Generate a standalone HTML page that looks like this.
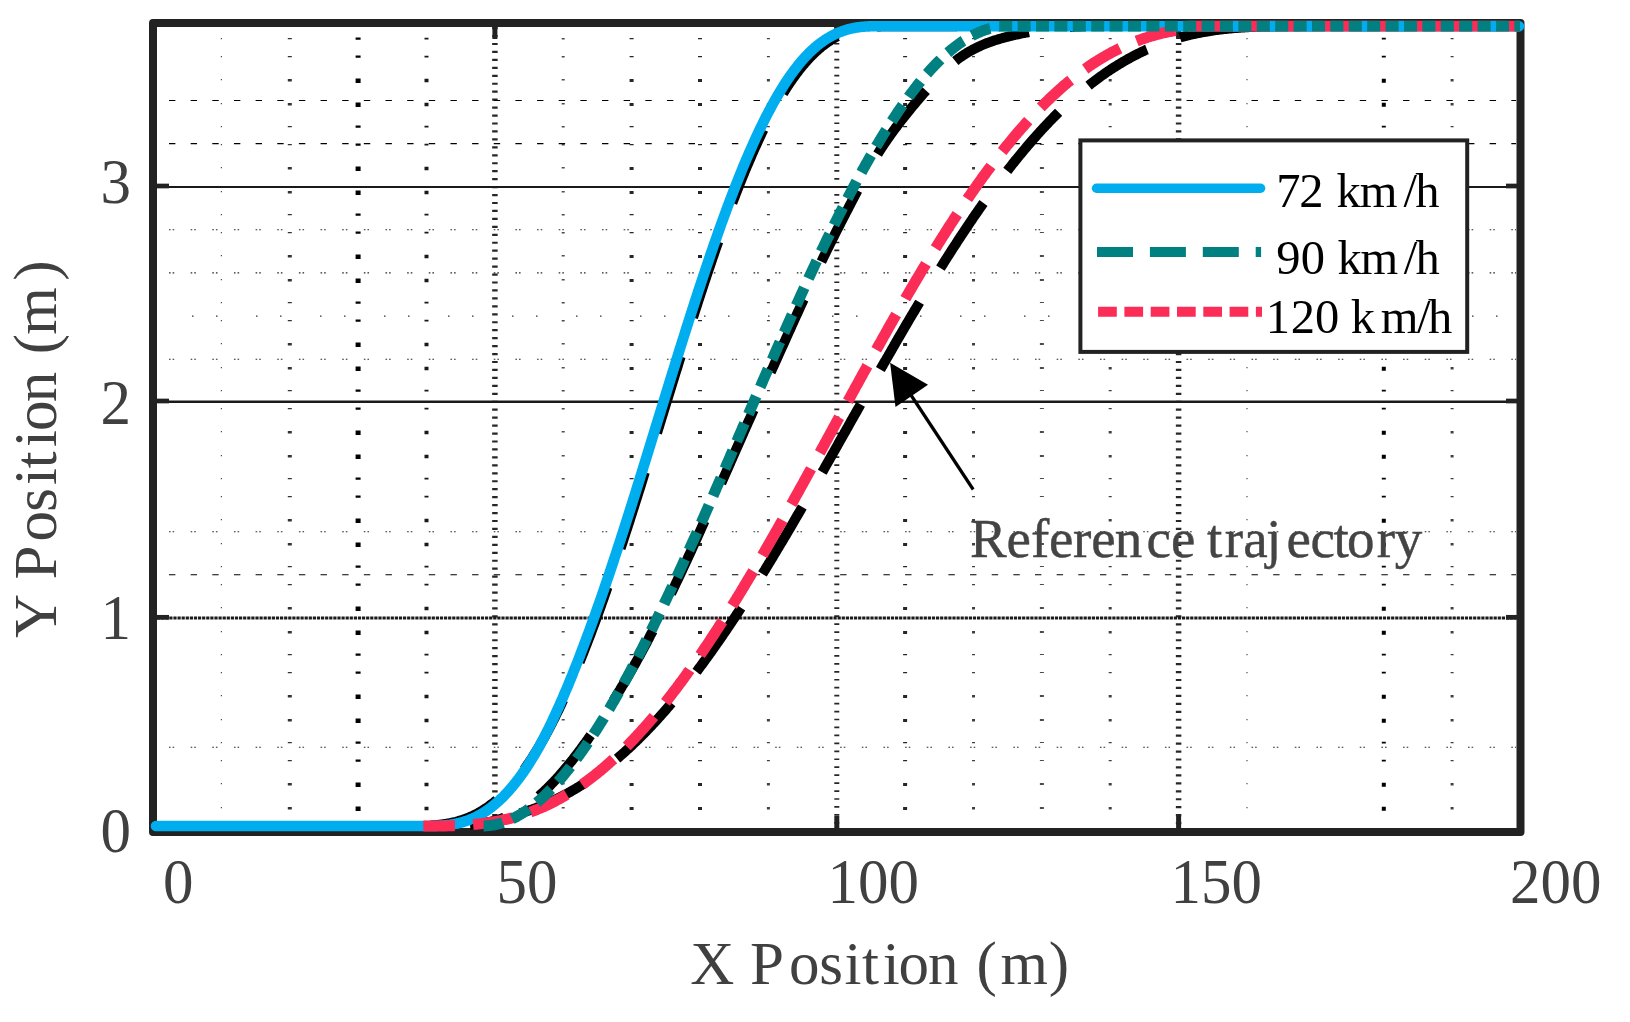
<!DOCTYPE html>
<html><head><meta charset="utf-8"><title>Trajectory plot</title>
<style>html,body{margin:0;padding:0;background:#fff}svg{display:block}</style>
</head><body>
<svg width="1630" height="1022" viewBox="0 0 1630 1022">
<rect width="1630" height="1022" fill="#fff"/>
<g id="grid" fill="none" stroke="#000">
<line x1="221.4" y1="38.0" x2="221.4" y2="828" stroke-width="1.2" stroke-dasharray="1.2 16.8 1.2 21.8 1.2 22.8 1.2 21.8" stroke-opacity="0.7"/>
<line x1="289.8" y1="38.0" x2="289.8" y2="828" stroke-width="4" stroke-dasharray="1.125 16.875 1.125 21.875 2.5 21.5 2.5 20.5" stroke-opacity="0.8"/>
<line x1="358.1" y1="37.6" x2="358.1" y2="828" stroke-width="5" stroke-dasharray="2.025 15.975 2.025 20.975 4.5 19.5 4.5 18.5" stroke-opacity="1"/>
<line x1="426.5" y1="37.8" x2="426.5" y2="828" stroke-width="4" stroke-dasharray="1.575 16.425 1.575 21.425 3.5 20.5 3.5 19.5" stroke-opacity="0.9"/>
<line x1="494.9" y1="27" x2="494.9" y2="828" stroke-width="5.5" stroke-dasharray="2.2 5.75" stroke-opacity="0.85"/>
<line x1="563.2" y1="37.9" x2="563.2" y2="828" stroke-width="3" stroke-dasharray="1.5 16.5 1.5 21.5 1.5 22.5 1.5 21.5" stroke-opacity="0.7"/>
<line x1="631.6" y1="37.9" x2="631.6" y2="828" stroke-width="4" stroke-dasharray="1.35 16.65 1.35 21.65 3 21 3 20" stroke-opacity="0.85"/>
<line x1="700.0" y1="37.9" x2="700.0" y2="828" stroke-width="4" stroke-dasharray="1.35 16.65 1.35 21.65 3 21 3 20" stroke-opacity="0.85"/>
<line x1="768.4" y1="38.0" x2="768.4" y2="828" stroke-width="3" stroke-dasharray="1.125 16.875 1.125 21.875 2.5 21.5 2.5 20.5" stroke-opacity="0.75"/>
<line x1="836.8" y1="27" x2="836.8" y2="828" stroke-width="5" stroke-dasharray="1.7 6.25" stroke-opacity="0.85"/>
<line x1="905.1" y1="37.9" x2="905.1" y2="828" stroke-width="4" stroke-dasharray="1.35 16.65 1.35 21.65 3 21 3 20" stroke-opacity="0.85"/>
<line x1="973.5" y1="38.0" x2="973.5" y2="828" stroke-width="3" stroke-dasharray="1.125 16.875 1.125 21.875 2.5 21.5 2.5 20.5" stroke-opacity="0.75"/>
<line x1="1041.9" y1="38.1" x2="1041.9" y2="828" stroke-width="4" stroke-dasharray="1 17 1 22 2 22 2 21" stroke-opacity="0.7"/>
<line x1="1110.2" y1="38.0" x2="1110.2" y2="828" stroke-width="3" stroke-dasharray="1.125 16.875 1.125 21.875 2.5 21.5 2.5 20.5" stroke-opacity="0.75"/>
<line x1="1178.6" y1="27" x2="1178.6" y2="828" stroke-width="5.5" stroke-dasharray="2.2 5.75" stroke-opacity="0.85"/>
<line x1="1247.0" y1="38.0" x2="1247.0" y2="828" stroke-width="1.2" stroke-dasharray="1.2 16.8 1.2 21.8 1.2 22.8 1.2 21.8" stroke-opacity="0.7"/>
<line x1="1383.8" y1="37.7" x2="1383.8" y2="828" stroke-width="4" stroke-dasharray="1.8 16.2 1.8 21.2 4 20 4 19" stroke-opacity="1"/>
<line x1="1452.1" y1="38.0" x2="1452.1" y2="828" stroke-width="3" stroke-dasharray="1.125 16.875 1.125 21.875 2.5 21.5 2.5 20.5" stroke-opacity="0.75"/>
<line x1="169" y1="574.8" x2="1516" y2="574.8" stroke-width="1.1" stroke-dasharray="6.4 15.25"/>
<line x1="169" y1="143.6" x2="1516" y2="143.6" stroke-width="1.1" stroke-dasharray="6.4 15.25"/>
<line x1="169" y1="100.5" x2="1516" y2="100.5" stroke-width="1.1" stroke-dasharray="6.4 15.25"/>
<line x1="169" y1="747.3" x2="1516" y2="747.3" stroke-width="1.1" stroke-dasharray="1.6 2 1.6 16.45" stroke-opacity=".85"/>
<line x1="169" y1="531.7" x2="1516" y2="531.7" stroke-width="1.1" stroke-dasharray="1.6 2 1.6 16.45" stroke-opacity=".85"/>
<line x1="169" y1="359.2" x2="1516" y2="359.2" stroke-width="1.1" stroke-dasharray="1.6 2 1.6 16.45" stroke-opacity=".85"/>
<line x1="169" y1="272.9" x2="1516" y2="272.9" stroke-width="1.1" stroke-dasharray="1.6 2 1.6 16.45" stroke-opacity=".85"/>
<line x1="169" y1="229.8" x2="1516" y2="229.8" stroke-width="1.1" stroke-dasharray="1.6 2 1.6 16.45" stroke-opacity=".85"/>
<line x1="192" y1="316.1" x2="1516" y2="316.1" stroke-width="1.3" stroke-dasharray="1.5 22.5 1.5 38.5" stroke-opacity=".8"/>
<line x1="157" y1="187" x2="1516" y2="187" stroke="#1a1a1a" stroke-width="2"/>
<line x1="157" y1="401.7" x2="1516" y2="401.7" stroke="#1a1a1a" stroke-width="2.6"/>
<line x1="157" y1="618" x2="1516" y2="618" stroke="#1a1a1a" stroke-width="2.8" stroke-dasharray="3.2 0.9"/>
</g>
<g id="frame" stroke="#222" fill="none">
<rect x="153.0" y="23.0" width="1367.5" height="809.0" stroke-width="8" stroke-linejoin="round"/>
<line x1="156" y1="186" x2="169" y2="186" stroke-width="4.7"/>
<line x1="1506" y1="186" x2="1517" y2="186" stroke-width="4.7"/>
<line x1="156" y1="401" x2="169" y2="401" stroke-width="4.7"/>
<line x1="1506" y1="401" x2="1517" y2="401" stroke-width="4.7"/>
<line x1="156" y1="617.3" x2="169" y2="617.3" stroke-width="4.7"/>
<line x1="1506" y1="617.3" x2="1517" y2="617.3" stroke-width="4.7"/>
<line x1="494.9" y1="816" x2="494.9" y2="829" stroke-width="5"/>
<line x1="494.9" y1="26" x2="494.9" y2="39" stroke-width="5"/>
<line x1="836.8" y1="816" x2="836.8" y2="829" stroke-width="5"/>
<line x1="836.8" y1="26" x2="836.8" y2="39" stroke-width="5"/>
<line x1="1178.6" y1="816" x2="1178.6" y2="829" stroke-width="5"/>
<line x1="1178.6" y1="26" x2="1178.6" y2="39" stroke-width="5"/>
</g>
<g id="curves">
<path id="ref72" d="M430.0,825.5 L431.0,825.5 L432.0,825.4 L433.0,825.3 L434.0,825.3 L435.0,825.2 L436.0,825.1 L437.0,825.0 L438.0,824.9 L439.0,824.8 L440.0,824.7 L441.0,824.6 L442.0,824.4 L443.0,824.3 L444.0,824.2 L445.0,824.0 L446.0,823.9 L447.0,823.7 L448.0,823.5 L449.0,823.3 L450.0,823.1 L451.0,822.9 L452.0,822.7 L453.0,822.5 L454.0,822.3 L455.0,822.0 L456.0,821.8 L457.0,821.5 L458.0,821.2 L459.0,820.9 L460.0,820.6 L461.0,820.3 L462.0,820.0 L463.0,819.7 L464.0,819.3 L465.0,819.0 L466.0,818.6 L467.0,818.2 L468.0,817.8 L469.0,817.4 L470.0,817.0 L471.0,816.5 L472.0,816.1 L473.0,815.6 L474.0,815.1 L475.0,814.7 L476.0,814.1 L477.0,813.6 L478.0,813.1 L479.0,812.5 L480.0,812.0 L481.0,811.4 L482.0,810.8 L483.0,810.2 L484.0,809.5 L485.0,808.9 L486.0,808.2 L487.0,807.5 L488.0,806.8 L489.0,806.1 L490.0,805.4 L491.0,804.6 L492.0,803.9 L493.0,803.1 L494.0,802.3 L495.0,801.5 L496.0,800.7 L497.0,799.8 L498.0,798.9 L499.0,798.0 L500.0,797.1 L501.0,796.2 L502.0,795.3 L503.0,794.3 L504.0,793.3 L505.0,792.3 L506.0,791.3 L507.0,790.3 L508.0,789.2 L509.0,788.1 L510.0,787.0 L511.0,785.9 L512.0,784.8 L513.0,783.6 L514.0,782.5 L515.0,781.3 L516.0,780.1 L517.0,778.8 L518.0,777.6 L519.0,776.3 L520.0,775.0 L521.0,773.7 L522.0,772.4 L523.0,771.0 L524.0,769.7 L525.0,768.3 L526.0,766.9 L527.0,765.4 L528.0,764.0 L529.0,762.5 L530.0,761.0 L531.0,759.5 L532.0,758.0 L533.0,756.4 L534.0,754.8 L535.0,753.3 L536.0,751.6 L537.0,750.0 L538.0,748.4 L539.0,746.7 L540.0,745.0 L541.0,743.3 L542.0,741.5 L543.0,739.8 L544.0,738.0 L545.0,736.2 L546.0,734.4 L547.0,732.6 L548.0,730.7 L549.0,728.8 L550.0,726.9 L551.0,725.0 L552.0,723.1 L553.0,721.1 L554.0,719.2 L555.0,717.2 L556.0,715.1 L557.0,713.1 L558.0,711.1 L559.0,709.0 L560.0,706.9 L561.0,704.8 L562.0,702.7 L563.0,700.5 L564.0,698.3 L565.0,696.1 L566.0,693.9 L567.0,691.7 L568.0,689.5 L569.0,687.2 L570.0,684.9 L571.0,682.6 L572.0,680.3 L573.0,678.0 L574.0,675.6 L575.0,673.2 L576.0,670.8 L577.0,668.4 L578.0,666.0 L579.0,663.6 L580.0,661.1 L581.0,658.6 L582.0,656.1 L583.0,653.6 L584.0,651.1 L585.0,648.5 L586.0,646.0 L587.0,643.4 L588.0,640.8 L589.0,638.2 L590.0,635.6 L591.0,632.9 L592.0,630.3 L593.0,627.6 L594.0,624.9 L595.0,622.2 L596.0,619.5 L597.0,616.7 L598.0,614.0 L599.0,611.2 L600.0,608.5 L601.0,605.7 L602.0,602.9 L603.0,600.0 L604.0,597.2 L605.0,594.4 L606.0,591.5 L607.0,588.6 L608.0,585.7 L609.0,582.8 L610.0,579.9 L611.0,577.0 L612.0,574.1 L613.0,571.1 L614.0,568.2 L615.0,565.2 L616.0,562.2 L617.0,559.2 L618.0,556.2 L619.0,553.2 L620.0,550.2 L621.0,547.2 L622.0,544.1 L623.0,541.1 L624.0,538.0 L625.0,534.9 L626.0,531.8 L627.0,528.8 L628.0,525.7 L629.0,522.6 L630.0,519.4 L631.0,516.3 L632.0,513.2 L633.0,510.0 L634.0,506.9 L635.0,503.8 L636.0,500.6 L637.0,497.4 L638.0,494.3 L639.0,491.1 L640.0,487.9 L641.0,484.7 L642.0,481.5 L643.0,478.3 L644.0,475.1 L645.0,471.9 L646.0,468.7 L647.0,465.5 L648.0,462.3 L649.0,459.0 L650.0,455.8 L651.0,452.6 L652.0,449.3 L653.0,446.1 L654.0,442.9 L655.0,439.6 L656.0,436.4 L657.0,433.2 L658.0,429.9 L659.0,426.7 L660.0,423.4 L661.0,420.2 L662.0,416.9 L663.0,413.7 L664.0,410.4 L665.0,407.2 L666.0,403.9 L667.0,400.7 L668.0,397.5 L669.0,394.2 L670.0,391.0 L671.0,387.7 L672.0,384.5 L673.0,381.3 L674.0,378.0 L675.0,374.8 L676.0,371.6 L677.0,368.4 L678.0,365.2 L679.0,361.9 L680.0,358.7 L681.0,355.5 L682.0,352.3 L683.0,349.1 L684.0,346.0 L685.0,342.8 L686.0,339.6 L687.0,336.4 L688.0,333.3 L689.0,330.1 L690.0,327.0 L691.0,323.8 L692.0,320.7 L693.0,317.5 L694.0,314.4 L695.0,311.3 L696.0,308.2 L697.0,305.1 L698.0,302.0 L699.0,299.0 L700.0,295.9 L701.0,292.8 L702.0,289.8 L703.0,286.7 L704.0,283.7 L705.0,280.7 L706.0,277.7 L707.0,274.7 L708.0,271.7 L709.0,268.7 L710.0,265.8 L711.0,262.8 L712.0,259.9 L713.0,256.9 L714.0,254.0 L715.0,251.1 L716.0,248.2 L717.0,245.4 L718.0,242.5 L719.0,239.7 L720.0,236.8 L721.0,234.0 L722.0,231.2 L723.0,228.4 L724.0,225.6 L725.0,222.9 L726.0,220.1 L727.0,217.4 L728.0,214.7 L729.0,212.0 L730.0,209.3 L731.0,206.6 L732.0,204.0 L733.0,201.3 L734.0,198.7 L735.0,196.1 L736.0,193.5 L737.0,190.9 L738.0,188.4 L739.0,185.9 L740.0,183.3 L741.0,180.8 L742.0,178.4 L743.0,175.9 L744.0,173.5 L745.0,171.0 L746.0,168.6 L747.0,166.2 L748.0,163.9 L749.0,161.5 L750.0,159.2 L751.0,156.9 L752.0,154.6 L753.0,152.3 L754.0,150.0 L755.0,147.8 L756.0,145.6 L757.0,143.4 L758.0,141.2 L759.0,139.1 L760.0,136.9 L761.0,134.8 L762.0,132.7 L763.0,130.6 L764.0,128.6 L765.0,126.6 L766.0,124.5 L767.0,122.6 L768.0,120.6 L769.0,118.6 L770.0,116.7 L771.0,114.8 L772.0,112.9 L773.0,111.1 L774.0,109.2 L775.0,107.4 L776.0,105.6 L777.0,103.8 L778.0,102.1 L779.0,100.3 L780.0,98.6 L781.0,96.9 L782.0,95.3 L783.0,93.6 L784.0,92.0 L785.0,90.4 L786.0,88.8 L787.0,87.3 L788.0,85.7 L789.0,84.2 L790.0,82.7 L791.0,81.3 L792.0,79.8 L793.0,78.4 L794.0,77.0 L795.0,75.6 L796.0,74.3 L797.0,72.9 L798.0,71.6 L799.0,70.3 L800.0,69.0 L801.0,67.8 L802.0,66.6 L803.0,65.4 L804.0,64.2 L805.0,63.0 L806.0,61.9 L807.0,60.7 L808.0,59.6 L809.0,58.6 L810.0,57.5 L811.0,56.5 L812.0,55.5 L813.0,54.5 L814.0,53.5 L815.0,52.5 L816.0,51.6 L817.0,50.7 L818.0,49.8 L819.0,48.9 L820.0,48.1 L821.0,47.2 L822.0,46.4 L823.0,45.6 L824.0,44.9 L825.0,44.1 L826.0,43.4 L827.0,42.7 L828.0,42.0 L829.0,41.3 L830.0,40.6 L831.0,40.0 L832.0,39.4 L833.0,38.8 L834.0,38.2 L835.0,37.6 L836.0,37.1 L837.0,36.5 L838.0,36.0 L839.0,35.5 L840.0,35.0 L841.0,34.6 L842.0,34.1 L843.0,33.7 L844.0,33.3 L845.0,32.9 L846.0,32.5 L847.0,32.1 L848.0,31.7 L849.0,31.4 L850.0,31.1 L851.0,30.7 L852.0,30.4 L853.0,30.2 L854.0,29.9 L855.0,29.6 L856.0,29.4 L857.0,29.1 L858.0,28.9 L859.0,28.7 L860.0,28.5 L861.0,28.3 L862.0,28.1 L863.0,28.0 L864.0,27.8 L865.0,27.6 L866.0,27.5 L867.0,27.4 L868.0,27.3 L869.0,27.1 L870.0,27.0 L871.0,26.9 L872.0,26.8 L873.0,26.8 L874.0,26.7 L875.0,26.6 L876.0,26.6 L877.0,26.5 L878.0,26.5 L879.0,26.4 L880.0,26.4 L881.0,26.3 L882.0,26.3 L883.0,26.3 L884.0,26.3 L885.0,26.3 L886.0,26.2 L887.0,26.2 L888.0,26.2 L889.0,26.2 L890.0,26.2 L891.0,26.2 L892.0,26.2 L893.0,26.2 L894.0,26.2 L895.0,26.2 L896.0,26.2 L897.0,26.2 L898.0,26.2 L899.0,26.2 L900.0,26.2 L901.0,26.2 L902.0,26.2 L903.0,26.2 L904.0,26.2 L905.0,26.2 L906.0,26.2 L907.0,26.2 L908.0,26.2 L909.0,26.2 L910.0,26.2 L911.0,26.2 L912.0,26.2 L913.0,26.2 L914.0,26.2 L915.0,26.2 L916.0,26.2 L917.0,26.2 L918.0,26.2 L919.0,26.2 L920.0,26.2 L921.0,26.2 L922.0,26.2 L923.0,26.2 L924.0,26.2 L925.0,26.2 L926.0,26.2 L927.0,26.2 L928.0,26.2 L929.0,26.2 L930.0,26.2 L931.0,26.2 L932.0,26.2 L933.0,26.2 L934.0,26.2 L935.0,26.2 L936.0,26.2 L937.0,26.2 L938.0,26.2 L939.0,26.2 L940.0,26.2 L941.0,26.2 L942.0,26.2 L943.0,26.2 L944.0,26.2 L945.0,26.2 L946.0,26.2 L947.0,26.2 L948.0,26.2 L949.0,26.2 L950.0,26.2 L951.0,26.2 L952.0,26.2 L953.0,26.2 L954.0,26.2 L955.0,26.2 L956.0,26.2 L957.0,26.2 L958.0,26.2 L959.0,26.2 L960.0,26.2 L961.0,26.2 L962.0,26.2 L963.0,26.2 L964.0,26.2 L965.0,26.2 L966.0,26.2 L967.0,26.2 L968.0,26.2 L969.0,26.2 L970.0,26.2 L971.0,26.2 L972.0,26.2 L973.0,26.2 L974.0,26.2 L975.0,26.2 L976.0,26.2 L977.0,26.2 L978.0,26.2 L979.0,26.2 L980.0,26.2 L981.0,26.2 L982.0,26.2 L983.0,26.2 L984.0,26.2 L985.0,26.2 L986.0,26.2 L987.0,26.2 L988.0,26.2 L989.0,26.2 L990.0,26.2 L991.0,26.2 L992.0,26.2 L993.0,26.2 L994.0,26.2 L995.0,26.2 L996.0,26.2 L997.0,26.2 L998.0,26.2 L999.0,26.2 L1000.0,26.2" fill="none" stroke="#000" stroke-width="10" stroke-dasharray="80 41" stroke-dashoffset="6.9" />
<path id="ref90" d="M470.0,824.5 L471.0,824.4 L472.0,824.3 L473.0,824.2 L474.0,824.1 L475.0,824.0 L476.0,823.9 L477.0,823.8 L478.0,823.7 L479.0,823.5 L480.0,823.4 L481.0,823.3 L482.0,823.1 L483.0,823.0 L484.0,822.8 L485.0,822.7 L486.0,822.5 L487.0,822.3 L488.0,822.2 L489.0,822.0 L490.0,821.8 L491.0,821.6 L492.0,821.3 L493.0,821.1 L494.0,820.9 L495.0,820.6 L496.0,820.4 L497.0,820.1 L498.0,819.8 L499.0,819.5 L500.0,819.2 L501.0,818.8 L502.0,818.5 L503.0,818.1 L504.0,817.8 L505.0,817.4 L506.0,817.0 L507.0,816.6 L508.0,816.2 L509.0,815.7 L510.0,815.3 L511.0,814.8 L512.0,814.4 L513.0,813.9 L514.0,813.4 L515.0,812.9 L516.0,812.3 L517.0,811.8 L518.0,811.2 L519.0,810.7 L520.0,810.1 L521.0,809.5 L522.0,808.8 L523.0,808.2 L524.0,807.6 L525.0,806.9 L526.0,806.2 L527.0,805.5 L528.0,804.8 L529.0,804.0 L530.0,803.3 L531.0,802.5 L532.0,801.7 L533.0,800.9 L534.0,800.1 L535.0,799.3 L536.0,798.5 L537.0,797.6 L538.0,796.8 L539.0,795.9 L540.0,795.0 L541.0,794.2 L542.0,793.3 L543.0,792.3 L544.0,791.4 L545.0,790.5 L546.0,789.5 L547.0,788.6 L548.0,787.6 L549.0,786.6 L550.0,785.6 L551.0,784.6 L552.0,783.5 L553.0,782.5 L554.0,781.4 L555.0,780.4 L556.0,779.3 L557.0,778.2 L558.0,777.1 L559.0,776.0 L560.0,774.8 L561.0,773.7 L562.0,772.5 L563.0,771.4 L564.0,770.2 L565.0,769.0 L566.0,767.8 L567.0,766.6 L568.0,765.4 L569.0,764.2 L570.0,762.9 L571.0,761.7 L572.0,760.5 L573.0,759.2 L574.0,757.9 L575.0,756.6 L576.0,755.3 L577.0,754.0 L578.0,752.7 L579.0,751.4 L580.0,750.1 L581.0,748.7 L582.0,747.4 L583.0,746.0 L584.0,744.6 L585.0,743.3 L586.0,741.9 L587.0,740.5 L588.0,739.1 L589.0,737.6 L590.0,736.2 L591.0,734.8 L592.0,733.3 L593.0,731.9 L594.0,730.4 L595.0,728.9 L596.0,727.5 L597.0,726.0 L598.0,724.5 L599.0,723.0 L600.0,721.5 L601.0,720.0 L602.0,718.4 L603.0,716.9 L604.0,715.4 L605.0,713.8 L606.0,712.3 L607.0,710.7 L608.0,709.1 L609.0,707.6 L610.0,706.0 L611.0,704.4 L612.0,702.8 L613.0,701.2 L614.0,699.6 L615.0,698.0 L616.0,696.3 L617.0,694.7 L618.0,693.1 L619.0,691.4 L620.0,689.8 L621.0,688.1 L622.0,686.4 L623.0,684.8 L624.0,683.1 L625.0,681.4 L626.0,679.7 L627.0,678.0 L628.0,676.3 L629.0,674.5 L630.0,672.8 L631.0,671.1 L632.0,669.3 L633.0,667.5 L634.0,665.8 L635.0,664.0 L636.0,662.2 L637.0,660.4 L638.0,658.6 L639.0,656.8 L640.0,655.0 L641.0,653.1 L642.0,651.3 L643.0,649.4 L644.0,647.6 L645.0,645.7 L646.0,643.8 L647.0,641.9 L648.0,640.0 L649.0,638.1 L650.0,636.1 L651.0,634.2 L652.0,632.3 L653.0,630.3 L654.0,628.3 L655.0,626.4 L656.0,624.4 L657.0,622.4 L658.0,620.4 L659.0,618.4 L660.0,616.4 L661.0,614.3 L662.0,612.3 L663.0,610.3 L664.0,608.2 L665.0,606.2 L666.0,604.1 L667.0,602.0 L668.0,600.0 L669.0,597.9 L670.0,595.8 L671.0,593.7 L672.0,591.6 L673.0,589.5 L674.0,587.4 L675.0,585.3 L676.0,583.2 L677.0,581.1 L678.0,579.0 L679.0,576.9 L680.0,574.8 L681.0,572.6 L682.0,570.5 L683.0,568.4 L684.0,566.2 L685.0,564.1 L686.0,561.9 L687.0,559.8 L688.0,557.6 L689.0,555.4 L690.0,553.3 L691.0,551.1 L692.0,548.9 L693.0,546.7 L694.0,544.5 L695.0,542.3 L696.0,540.1 L697.0,537.9 L698.0,535.7 L699.0,533.5 L700.0,531.2 L701.0,529.0 L702.0,526.8 L703.0,524.5 L704.0,522.3 L705.0,520.0 L706.0,517.8 L707.0,515.5 L708.0,513.3 L709.0,511.0 L710.0,508.8 L711.0,506.5 L712.0,504.2 L713.0,502.0 L714.0,499.7 L715.0,497.4 L716.0,495.2 L717.0,492.9 L718.0,490.6 L719.0,488.4 L720.0,486.1 L721.0,483.8 L722.0,481.6 L723.0,479.3 L724.0,477.0 L725.0,474.7 L726.0,472.5 L727.0,470.2 L728.0,467.9 L729.0,465.7 L730.0,463.4 L731.0,461.1 L732.0,458.9 L733.0,456.6 L734.0,454.3 L735.0,452.0 L736.0,449.8 L737.0,447.5 L738.0,445.2 L739.0,443.0 L740.0,440.7 L741.0,438.4 L742.0,436.2 L743.0,433.9 L744.0,431.6 L745.0,429.4 L746.0,427.1 L747.0,424.9 L748.0,422.6 L749.0,420.4 L750.0,418.2 L751.0,415.9 L752.0,413.7 L753.0,411.5 L754.0,409.2 L755.0,407.0 L756.0,404.8 L757.0,402.6 L758.0,400.4 L759.0,398.2 L760.0,395.9 L761.0,393.7 L762.0,391.5 L763.0,389.3 L764.0,387.1 L765.0,384.9 L766.0,382.7 L767.0,380.5 L768.0,378.3 L769.0,376.1 L770.0,373.9 L771.0,371.7 L772.0,369.5 L773.0,367.3 L774.0,365.1 L775.0,362.8 L776.0,360.6 L777.0,358.4 L778.0,356.2 L779.0,354.0 L780.0,351.8 L781.0,349.5 L782.0,347.3 L783.0,345.1 L784.0,342.9 L785.0,340.7 L786.0,338.4 L787.0,336.2 L788.0,334.0 L789.0,331.8 L790.0,329.6 L791.0,327.4 L792.0,325.1 L793.0,322.9 L794.0,320.7 L795.0,318.5 L796.0,316.3 L797.0,314.1 L798.0,311.9 L799.0,309.7 L800.0,307.5 L801.0,305.3 L802.0,303.1 L803.0,300.9 L804.0,298.8 L805.0,296.6 L806.0,294.4 L807.0,292.2 L808.0,290.1 L809.0,287.9 L810.0,285.8 L811.0,283.6 L812.0,281.5 L813.0,279.3 L814.0,277.2 L815.0,275.0 L816.0,272.9 L817.0,270.8 L818.0,268.7 L819.0,266.6 L820.0,264.5 L821.0,262.4 L822.0,260.3 L823.0,258.3 L824.0,256.2 L825.0,254.2 L826.0,252.1 L827.0,250.1 L828.0,248.1 L829.0,246.0 L830.0,244.0 L831.0,242.0 L832.0,240.0 L833.0,238.0 L834.0,236.1 L835.0,234.1 L836.0,232.1 L837.0,230.1 L838.0,228.2 L839.0,226.2 L840.0,224.3 L841.0,222.3 L842.0,220.4 L843.0,218.5 L844.0,216.5 L845.0,214.6 L846.0,212.6 L847.0,210.7 L848.0,208.8 L849.0,206.8 L850.0,204.9 L851.0,203.0 L852.0,201.0 L853.0,199.1 L854.0,197.2 L855.0,195.2 L856.0,193.3 L857.0,191.4 L858.0,189.5 L859.0,187.5 L860.0,185.6 L861.0,183.7 L862.0,181.8 L863.0,179.9 L864.0,178.0 L865.0,176.2 L866.0,174.3 L867.0,172.5 L868.0,170.6 L869.0,168.8 L870.0,167.0 L871.0,165.3 L872.0,163.5 L873.0,161.8 L874.0,160.1 L875.0,158.4 L876.0,156.7 L877.0,155.1 L878.0,153.5 L879.0,151.9 L880.0,150.3 L881.0,148.8 L882.0,147.2 L883.0,145.7 L884.0,144.2 L885.0,142.7 L886.0,141.3 L887.0,139.8 L888.0,138.4 L889.0,137.0 L890.0,135.6 L891.0,134.2 L892.0,132.8 L893.0,131.4 L894.0,130.1 L895.0,128.7 L896.0,127.4 L897.0,126.0 L898.0,124.7 L899.0,123.4 L900.0,122.1 L901.0,120.8 L902.0,119.5 L903.0,118.3 L904.0,117.0 L905.0,115.8 L906.0,114.5 L907.0,113.3 L908.0,112.0 L909.0,110.8 L910.0,109.6 L911.0,108.3 L912.0,107.1 L913.0,105.9 L914.0,104.7 L915.0,103.5 L916.0,102.3 L917.0,101.1 L918.0,100.0 L919.0,98.8 L920.0,97.6 L921.0,96.5 L922.0,95.3 L923.0,94.1 L924.0,93.0 L925.0,91.9 L926.0,90.7 L927.0,89.6 L928.0,88.5 L929.0,87.4 L930.0,86.3 L931.0,85.1 L932.0,84.1 L933.0,83.0 L934.0,81.9 L935.0,80.8 L936.0,79.7 L937.0,78.6 L938.0,77.6 L939.0,76.5 L940.0,75.5 L941.0,74.4 L942.0,73.4 L943.0,72.4 L944.0,71.4 L945.0,70.4 L946.0,69.4 L947.0,68.4 L948.0,67.4 L949.0,66.5 L950.0,65.6 L951.0,64.7 L952.0,63.8 L953.0,62.9 L954.0,62.1 L955.0,61.3 L956.0,60.5 L957.0,59.7 L958.0,58.9 L959.0,58.2 L960.0,57.5 L961.0,56.8 L962.0,56.1 L963.0,55.4 L964.0,54.8 L965.0,54.1 L966.0,53.5 L967.0,52.9 L968.0,52.3 L969.0,51.7 L970.0,51.2 L971.0,50.6 L972.0,50.1 L973.0,49.5 L974.0,49.0 L975.0,48.5 L976.0,48.0 L977.0,47.5 L978.0,47.0 L979.0,46.5 L980.0,46.1 L981.0,45.6 L982.0,45.2 L983.0,44.8 L984.0,44.3 L985.0,43.9 L986.0,43.5 L987.0,43.1 L988.0,42.8 L989.0,42.4 L990.0,42.0 L991.0,41.7 L992.0,41.3 L993.0,41.0 L994.0,40.6 L995.0,40.3 L996.0,40.0 L997.0,39.7 L998.0,39.4 L999.0,39.1 L1000.0,38.8 L1001.0,38.5 L1002.0,38.2 L1003.0,37.9 L1004.0,37.6 L1005.0,37.4 L1006.0,37.1 L1007.0,36.9 L1008.0,36.6 L1009.0,36.3 L1010.0,36.1 L1011.0,35.9 L1012.0,35.6 L1013.0,35.4 L1014.0,35.2 L1015.0,34.9 L1016.0,34.7 L1017.0,34.5 L1018.0,34.3 L1019.0,34.1 L1020.0,33.8 L1021.0,33.6 L1022.0,33.4 L1023.0,33.2 L1024.0,33.0 L1025.0,32.8 L1026.0,32.6 L1027.0,32.5 L1028.0,32.3 L1029.0,32.1 L1030.0,31.9 L1031.0,31.7 L1032.0,31.5 L1033.0,31.4 L1034.0,31.2 L1035.0,31.0 L1036.0,30.8 L1037.0,30.7 L1038.0,30.5 L1039.0,30.3 L1040.0,30.2 L1041.0,30.0 L1042.0,29.9 L1043.0,29.7 L1044.0,29.6 L1045.0,29.4 L1046.0,29.3 L1047.0,29.1 L1048.0,29.0 L1049.0,28.9 L1050.0,28.8 L1051.0,28.6 L1052.0,28.5 L1053.0,28.4 L1054.0,28.3 L1055.0,28.2 L1056.0,28.1 L1057.0,28.0 L1058.0,27.9 L1059.0,27.8 L1060.0,27.7 L1061.0,27.6 L1062.0,27.5 L1063.0,27.4 L1064.0,27.4 L1065.0,27.3 L1066.0,27.2 L1067.0,27.1 L1068.0,27.1 L1069.0,27.0 L1070.0,26.9 L1071.0,26.9 L1072.0,26.8 L1073.0,26.7 L1074.0,26.7 L1075.0,26.6 L1076.0,26.6 L1077.0,26.5 L1078.0,26.5 L1079.0,26.4 L1080.0,26.4 L1081.0,26.3 L1082.0,26.3 L1083.0,26.2 L1084.0,26.2 L1085.0,26.2 L1086.0,26.1 L1087.0,26.1 L1088.0,26.1 L1089.0,26.1 L1090.0,26.0 L1091.0,26.0 L1092.0,26.0 L1093.0,26.0 L1094.0,26.0 L1095.0,26.0 L1096.0,25.9 L1097.0,25.9 L1098.0,25.9 L1099.0,25.9 L1100.0,25.9" fill="none" stroke="#000" stroke-width="10" stroke-dasharray="80 41.5" stroke-dashoffset="45.3" />
<path id="ref120" d="M520.0,813.4 L521.0,813.1 L522.0,812.8 L523.0,812.4 L524.0,812.1 L525.0,811.8 L526.0,811.5 L527.0,811.1 L528.0,810.8 L529.0,810.5 L530.0,810.1 L531.0,809.8 L532.0,809.4 L533.0,809.1 L534.0,808.7 L535.0,808.3 L536.0,807.9 L537.0,807.6 L538.0,807.2 L539.0,806.8 L540.0,806.4 L541.0,806.0 L542.0,805.6 L543.0,805.2 L544.0,804.8 L545.0,804.3 L546.0,803.9 L547.0,803.5 L548.0,803.0 L549.0,802.6 L550.0,802.1 L551.0,801.7 L552.0,801.2 L553.0,800.8 L554.0,800.3 L555.0,799.8 L556.0,799.3 L557.0,798.8 L558.0,798.3 L559.0,797.8 L560.0,797.3 L561.0,796.8 L562.0,796.3 L563.0,795.8 L564.0,795.3 L565.0,794.7 L566.0,794.2 L567.0,793.6 L568.0,793.1 L569.0,792.5 L570.0,792.0 L571.0,791.4 L572.0,790.8 L573.0,790.2 L574.0,789.7 L575.0,789.1 L576.0,788.5 L577.0,787.9 L578.0,787.3 L579.0,786.6 L580.0,786.0 L581.0,785.4 L582.0,784.8 L583.0,784.1 L584.0,783.5 L585.0,782.8 L586.0,782.2 L587.0,781.5 L588.0,780.8 L589.0,780.2 L590.0,779.5 L591.0,778.8 L592.0,778.1 L593.0,777.4 L594.0,776.7 L595.0,776.0 L596.0,775.3 L597.0,774.5 L598.0,773.8 L599.0,773.1 L600.0,772.3 L601.0,771.6 L602.0,770.8 L603.0,770.1 L604.0,769.3 L605.0,768.5 L606.0,767.7 L607.0,766.9 L608.0,766.1 L609.0,765.3 L610.0,764.5 L611.0,763.7 L612.0,762.9 L613.0,762.1 L614.0,761.3 L615.0,760.4 L616.0,759.6 L617.0,758.7 L618.0,757.9 L619.0,757.0 L620.0,756.1 L621.0,755.3 L622.0,754.4 L623.0,753.5 L624.0,752.6 L625.0,751.7 L626.0,750.8 L627.0,749.9 L628.0,749.0 L629.0,748.1 L630.0,747.1 L631.0,746.2 L632.0,745.3 L633.0,744.3 L634.0,743.3 L635.0,742.4 L636.0,741.4 L637.0,740.4 L638.0,739.5 L639.0,738.5 L640.0,737.5 L641.0,736.5 L642.0,735.5 L643.0,734.5 L644.0,733.5 L645.0,732.4 L646.0,731.4 L647.0,730.4 L648.0,729.3 L649.0,728.3 L650.0,727.2 L651.0,726.2 L652.0,725.1 L653.0,724.0 L654.0,723.0 L655.0,721.9 L656.0,720.8 L657.0,719.7 L658.0,718.6 L659.0,717.5 L660.0,716.4 L661.0,715.2 L662.0,714.1 L663.0,713.0 L664.0,711.9 L665.0,710.7 L666.0,709.6 L667.0,708.4 L668.0,707.2 L669.0,706.1 L670.0,704.9 L671.0,703.7 L672.0,702.5 L673.0,701.3 L674.0,700.2 L675.0,699.0 L676.0,697.7 L677.0,696.5 L678.0,695.3 L679.0,694.1 L680.0,692.9 L681.0,691.6 L682.0,690.4 L683.0,689.1 L684.0,687.9 L685.0,686.6 L686.0,685.3 L687.0,684.1 L688.0,682.8 L689.0,681.5 L690.0,680.2 L691.0,678.9 L692.0,677.6 L693.0,676.3 L694.0,675.0 L695.0,673.7 L696.0,672.4 L697.0,671.1 L698.0,669.7 L699.0,668.4 L700.0,667.1 L701.0,665.7 L702.0,664.4 L703.0,663.0 L704.0,661.6 L705.0,660.3 L706.0,658.9 L707.0,657.5 L708.0,656.1 L709.0,654.8 L710.0,653.4 L711.0,652.0 L712.0,650.6 L713.0,649.2 L714.0,647.7 L715.0,646.3 L716.0,644.9 L717.0,643.5 L718.0,642.0 L719.0,640.6 L720.0,639.2 L721.0,637.7 L722.0,636.3 L723.0,634.8 L724.0,633.3 L725.0,631.9 L726.0,630.4 L727.0,628.9 L728.0,627.5 L729.0,626.0 L730.0,624.5 L731.0,623.0 L732.0,621.5 L733.0,620.0 L734.0,618.5 L735.0,617.0 L736.0,615.5 L737.0,613.9 L738.0,612.4 L739.0,610.9 L740.0,609.4 L741.0,607.8 L742.0,606.3 L743.0,604.7 L744.0,603.2 L745.0,601.6 L746.0,600.1 L747.0,598.5 L748.0,596.9 L749.0,595.4 L750.0,593.8 L751.0,592.2 L752.0,590.6 L753.0,589.1 L754.0,587.5 L755.0,585.9 L756.0,584.3 L757.0,582.7 L758.0,581.1 L759.0,579.5 L760.0,577.9 L761.0,576.3 L762.0,574.6 L763.0,573.0 L764.0,571.4 L765.0,569.8 L766.0,568.1 L767.0,566.5 L768.0,564.9 L769.0,563.2 L770.0,561.6 L771.0,559.9 L772.0,558.3 L773.0,556.6 L774.0,555.0 L775.0,553.3 L776.0,551.7 L777.0,550.0 L778.0,548.3 L779.0,546.6 L780.0,545.0 L781.0,543.3 L782.0,541.6 L783.0,539.9 L784.0,538.2 L785.0,536.6 L786.0,534.9 L787.0,533.2 L788.0,531.5 L789.0,529.8 L790.0,528.1 L791.0,526.4 L792.0,524.7 L793.0,523.0 L794.0,521.3 L795.0,519.6 L796.0,517.8 L797.0,516.1 L798.0,514.4 L799.0,512.7 L800.0,511.0 L801.0,509.2 L802.0,507.5 L803.0,505.8 L804.0,504.1 L805.0,502.3 L806.0,500.6 L807.0,498.8 L808.0,497.1 L809.0,495.4 L810.0,493.6 L811.0,491.9 L812.0,490.1 L813.0,488.4 L814.0,486.7 L815.0,484.9 L816.0,483.2 L817.0,481.4 L818.0,479.7 L819.0,477.9 L820.0,476.1 L821.0,474.4 L822.0,472.6 L823.0,470.9 L824.0,469.1 L825.0,467.3 L826.0,465.6 L827.0,463.8 L828.0,462.1 L829.0,460.3 L830.0,458.5 L831.0,456.8 L832.0,455.0 L833.0,453.2 L834.0,451.5 L835.0,449.7 L836.0,447.9 L837.0,446.2 L838.0,444.4 L839.0,442.6 L840.0,440.8 L841.0,439.1 L842.0,437.3 L843.0,435.5 L844.0,433.8 L845.0,432.0 L846.0,430.2 L847.0,428.4 L848.0,426.7 L849.0,424.9 L850.0,423.1 L851.0,421.3 L852.0,419.6 L853.0,417.8 L854.0,416.0 L855.0,414.3 L856.0,412.5 L857.0,410.7 L858.0,408.9 L859.0,407.2 L860.0,405.4 L861.0,403.6 L862.0,401.9 L863.0,400.1 L864.0,398.3 L865.0,396.6 L866.0,394.8 L867.0,393.0 L868.0,391.3 L869.0,389.5 L870.0,387.7 L871.0,386.0 L872.0,384.2 L873.0,382.4 L874.0,380.7 L875.0,378.9 L876.0,377.2 L877.0,375.4 L878.0,373.6 L879.0,371.9 L880.0,370.1 L881.0,368.4 L882.0,366.6 L883.0,364.9 L884.0,363.1 L885.0,361.4 L886.0,359.7 L887.0,357.9 L888.0,356.2 L889.0,354.4 L890.0,352.7 L891.0,351.0 L892.0,349.2 L893.0,347.5 L894.0,345.8 L895.0,344.0 L896.0,342.3 L897.0,340.6 L898.0,338.8 L899.0,337.1 L900.0,335.4 L901.0,333.7 L902.0,332.0 L903.0,330.3 L904.0,328.6 L905.0,326.8 L906.0,325.1 L907.0,323.4 L908.0,321.7 L909.0,320.0 L910.0,318.3 L911.0,316.6 L912.0,315.0 L913.0,313.3 L914.0,311.6 L915.0,309.9 L916.0,308.2 L917.0,306.5 L918.0,304.9 L919.0,303.2 L920.0,301.5 L921.0,299.9 L922.0,298.2 L923.0,296.5 L924.0,294.9 L925.0,293.2 L926.0,291.6 L927.0,289.9 L928.0,288.3 L929.0,286.6 L930.0,285.0 L931.0,283.4 L932.0,281.7 L933.0,280.1 L934.0,278.5 L935.0,276.9 L936.0,275.2 L937.0,273.6 L938.0,272.0 L939.0,270.4 L940.0,268.8 L941.0,267.2 L942.0,265.6 L943.0,264.0 L944.0,262.4 L945.0,260.8 L946.0,259.3 L947.0,257.7 L948.0,256.1 L949.0,254.5 L950.0,253.0 L951.0,251.4 L952.0,249.8 L953.0,248.3 L954.0,246.7 L955.0,245.2 L956.0,243.7 L957.0,242.1 L958.0,240.6 L959.0,239.1 L960.0,237.5 L961.0,236.0 L962.0,234.5 L963.0,233.0 L964.0,231.5 L965.0,230.0 L966.0,228.5 L967.0,227.0 L968.0,225.5 L969.0,224.0 L970.0,222.5 L971.0,221.0 L972.0,219.6 L973.0,218.1 L974.0,216.6 L975.0,215.2 L976.0,213.7 L977.0,212.3 L978.0,210.8 L979.0,209.4 L980.0,208.0 L981.0,206.5 L982.0,205.1 L983.0,203.7 L984.0,202.3 L985.0,200.9 L986.0,199.5 L987.0,198.1 L988.0,196.7 L989.0,195.3 L990.0,193.9 L991.0,192.5 L992.0,191.1 L993.0,189.8 L994.0,188.4 L995.0,187.1 L996.0,185.7 L997.0,184.4 L998.0,183.0 L999.0,181.7 L1000.0,180.3 L1001.0,179.0 L1002.0,177.7 L1003.0,176.4 L1004.0,175.1 L1005.0,173.8 L1006.0,172.5 L1007.0,171.2 L1008.0,169.9 L1009.0,168.6 L1010.0,167.3 L1011.0,166.1 L1012.0,164.8 L1013.0,163.5 L1014.0,162.3 L1015.0,161.0 L1016.0,159.8 L1017.0,158.6 L1018.0,157.3 L1019.0,156.1 L1020.0,154.9 L1021.0,153.7 L1022.0,152.5 L1023.0,151.3 L1024.0,150.1 L1025.0,148.9 L1026.0,147.7 L1027.0,146.5 L1028.0,145.3 L1029.0,144.2 L1030.0,143.0 L1031.0,141.8 L1032.0,140.7 L1033.0,139.6 L1034.0,138.4 L1035.0,137.3 L1036.0,136.2 L1037.0,135.0 L1038.0,133.9 L1039.0,132.8 L1040.0,131.7 L1041.0,130.6 L1042.0,129.5 L1043.0,128.4 L1044.0,127.4 L1045.0,126.3 L1046.0,125.2 L1047.0,124.2 L1048.0,123.1 L1049.0,122.1 L1050.0,121.0 L1051.0,120.0 L1052.0,119.0 L1053.0,117.9 L1054.0,116.9 L1055.0,115.9 L1056.0,114.9 L1057.0,113.9 L1058.0,112.9 L1059.0,111.9 L1060.0,111.0 L1061.0,110.0 L1062.0,109.0 L1063.0,108.1 L1064.0,107.1 L1065.0,106.2 L1066.0,105.2 L1067.0,104.3 L1068.0,103.4 L1069.0,102.4 L1070.0,101.5 L1071.0,100.6 L1072.0,99.7 L1073.0,98.8 L1074.0,97.9 L1075.0,97.0 L1076.0,96.2 L1077.0,95.3 L1078.0,94.4 L1079.0,93.6 L1080.0,92.7 L1081.0,91.9 L1082.0,91.0 L1083.0,90.2 L1084.0,89.4 L1085.0,88.5 L1086.0,87.7 L1087.0,86.9 L1088.0,86.1 L1089.0,85.3 L1090.0,84.5 L1091.0,83.7 L1092.0,82.9 L1093.0,82.2 L1094.0,81.4 L1095.0,80.7 L1096.0,79.9 L1097.0,79.2 L1098.0,78.4 L1099.0,77.7 L1100.0,76.9 L1101.0,76.2 L1102.0,75.5 L1103.0,74.8 L1104.0,74.1 L1105.0,73.4 L1106.0,72.7 L1107.0,72.0 L1108.0,71.3 L1109.0,70.7 L1110.0,70.0 L1111.0,69.3 L1112.0,68.7 L1113.0,68.0 L1114.0,67.4 L1115.0,66.8 L1116.0,66.1 L1117.0,65.5 L1118.0,64.9 L1119.0,64.3 L1120.0,63.7 L1121.0,63.1 L1122.0,62.5 L1123.0,61.9 L1124.0,61.3 L1125.0,60.7 L1126.0,60.1 L1127.0,59.6 L1128.0,59.0 L1129.0,58.5 L1130.0,57.9 L1131.0,57.4 L1132.0,56.8 L1133.0,56.3 L1134.0,55.8 L1135.0,55.3 L1136.0,54.8 L1137.0,54.2 L1138.0,53.7 L1139.0,53.2 L1140.0,52.8 L1141.0,52.3 L1142.0,51.8 L1143.0,51.3 L1144.0,50.9 L1145.0,50.4 L1146.0,49.9 L1147.0,49.5" fill="none" stroke="#000" stroke-width="10" stroke-dasharray="78 40" stroke-dashoffset="5.7" />
<path id="ref120tail" d="M1180.0,37.5 L1181.0,37.2 L1182.0,37.0 L1183.0,36.7 L1184.0,36.4 L1185.0,36.2 L1186.0,35.9 L1187.0,35.7 L1188.0,35.4 L1189.0,35.2 L1190.0,34.9 L1191.0,34.7 L1192.0,34.5 L1193.0,34.2 L1194.0,34.0 L1195.0,33.8 L1196.0,33.6 L1197.0,33.4 L1198.0,33.2 L1199.0,33.0 L1200.0,32.8 L1201.0,32.6 L1202.0,32.4 L1203.0,32.2 L1204.0,32.0 L1205.0,31.8 L1206.0,31.7 L1207.0,31.5 L1208.0,31.3 L1209.0,31.2 L1210.0,31.0 L1211.0,30.8 L1212.0,30.7 L1213.0,30.5 L1214.0,30.4 L1215.0,30.2 L1216.0,30.1 L1217.0,30.0 L1218.0,29.8 L1219.0,29.7 L1220.0,29.6 L1221.0,29.5 L1222.0,29.3 L1223.0,29.2 L1224.0,29.1 L1225.0,29.0 L1226.0,28.9 L1227.0,28.8 L1228.0,28.7 L1229.0,28.6 L1230.0,28.5 L1231.0,28.4 L1232.0,28.3 L1233.0,28.2 L1234.0,28.1 L1235.0,28.0 L1236.0,28.0 L1237.0,27.9 L1238.0,27.8 L1239.0,27.7 L1240.0,27.7 L1241.0,27.6 L1242.0,27.5 L1243.0,27.5 L1244.0,27.4 L1245.0,27.3 L1246.0,27.3 L1247.0,27.2 L1248.0,27.2 L1249.0,27.1 L1250.0,27.1 L1251.0,27.0 L1252.0,27.0 L1253.0,26.9 L1254.0,26.9 L1255.0,26.8 L1256.0,26.8 L1257.0,26.8 L1258.0,26.7 L1259.0,26.7 L1260.0,26.7 L1261.0,26.6 L1262.0,26.6 L1263.0,26.6 L1264.0,26.5 L1265.0,26.5 L1266.0,26.5 L1267.0,26.5 L1268.0,26.5 L1269.0,26.4 L1270.0,26.4 L1271.0,26.4 L1272.0,26.4 L1273.0,26.4 L1274.0,26.3 L1275.0,26.3 L1276.0,26.3 L1277.0,26.3 L1278.0,26.3 L1279.0,26.3 L1280.0,26.3 L1281.0,26.3 L1282.0,26.3 L1283.0,26.3 L1284.0,26.2 L1285.0,26.2 L1286.0,26.2 L1287.0,26.2 L1288.0,26.2 L1289.0,26.2 L1290.0,26.2 L1291.0,26.2 L1292.0,26.2 L1293.0,26.2 L1294.0,26.2 L1295.0,26.2 L1296.0,26.2 L1297.0,26.2 L1298.0,26.2 L1299.0,26.2 L1300.0,26.2" fill="none" stroke="#000" stroke-width="10"/>
<path id="blue" d="M156.0,826.0 L157.0,826.0 L158.0,826.0 L159.0,826.0 L160.0,826.0 L161.0,826.0 L162.0,826.0 L163.0,826.0 L164.0,826.0 L165.0,826.0 L166.0,826.0 L167.0,826.0 L168.0,826.0 L169.0,826.0 L170.0,826.0 L171.0,826.0 L172.0,826.0 L173.0,826.0 L174.0,826.0 L175.0,826.0 L176.0,826.0 L177.0,826.0 L178.0,826.0 L179.0,826.0 L180.0,826.0 L181.0,826.0 L182.0,826.0 L183.0,826.0 L184.0,826.0 L185.0,826.0 L186.0,826.0 L187.0,826.0 L188.0,826.0 L189.0,826.0 L190.0,826.0 L191.0,826.0 L192.0,826.0 L193.0,826.0 L194.0,826.0 L195.0,826.0 L196.0,826.0 L197.0,826.0 L198.0,826.0 L199.0,826.0 L200.0,826.0 L201.0,826.0 L202.0,826.0 L203.0,826.0 L204.0,826.0 L205.0,826.0 L206.0,826.0 L207.0,826.0 L208.0,826.0 L209.0,826.0 L210.0,826.0 L211.0,826.0 L212.0,826.0 L213.0,826.0 L214.0,826.0 L215.0,826.0 L216.0,826.0 L217.0,826.0 L218.0,826.0 L219.0,826.0 L220.0,826.0 L221.0,826.0 L222.0,826.0 L223.0,826.0 L224.0,826.0 L225.0,826.0 L226.0,826.0 L227.0,826.0 L228.0,826.0 L229.0,826.0 L230.0,826.0 L231.0,826.0 L232.0,826.0 L233.0,826.0 L234.0,826.0 L235.0,826.0 L236.0,826.0 L237.0,826.0 L238.0,826.0 L239.0,826.0 L240.0,826.0 L241.0,826.0 L242.0,826.0 L243.0,826.0 L244.0,826.0 L245.0,826.0 L246.0,826.0 L247.0,826.0 L248.0,826.0 L249.0,826.0 L250.0,826.0 L251.0,826.0 L252.0,826.0 L253.0,826.0 L254.0,826.0 L255.0,826.0 L256.0,826.0 L257.0,826.0 L258.0,826.0 L259.0,826.0 L260.0,826.0 L261.0,826.0 L262.0,826.0 L263.0,826.0 L264.0,826.0 L265.0,826.0 L266.0,826.0 L267.0,826.0 L268.0,826.0 L269.0,826.0 L270.0,826.0 L271.0,826.0 L272.0,826.0 L273.0,826.0 L274.0,826.0 L275.0,826.0 L276.0,826.0 L277.0,826.0 L278.0,826.0 L279.0,826.0 L280.0,826.0 L281.0,826.0 L282.0,826.0 L283.0,826.0 L284.0,826.0 L285.0,826.0 L286.0,826.0 L287.0,826.0 L288.0,826.0 L289.0,826.0 L290.0,826.0 L291.0,826.0 L292.0,826.0 L293.0,826.0 L294.0,826.0 L295.0,826.0 L296.0,826.0 L297.0,826.0 L298.0,826.0 L299.0,826.0 L300.0,826.0 L301.0,826.0 L302.0,826.0 L303.0,826.0 L304.0,826.0 L305.0,826.0 L306.0,826.0 L307.0,826.0 L308.0,826.0 L309.0,826.0 L310.0,826.0 L311.0,826.0 L312.0,826.0 L313.0,826.0 L314.0,826.0 L315.0,826.0 L316.0,826.0 L317.0,826.0 L318.0,826.0 L319.0,826.0 L320.0,826.0 L321.0,826.0 L322.0,826.0 L323.0,826.0 L324.0,826.0 L325.0,826.0 L326.0,826.0 L327.0,826.0 L328.0,826.0 L329.0,826.0 L330.0,826.0 L331.0,826.0 L332.0,826.0 L333.0,826.0 L334.0,826.0 L335.0,826.0 L336.0,826.0 L337.0,826.0 L338.0,826.0 L339.0,826.0 L340.0,826.0 L341.0,826.0 L342.0,826.0 L343.0,826.0 L344.0,826.0 L345.0,826.0 L346.0,826.0 L347.0,826.0 L348.0,826.0 L349.0,826.0 L350.0,826.0 L351.0,826.0 L352.0,826.0 L353.0,826.0 L354.0,826.0 L355.0,826.0 L356.0,826.0 L357.0,826.0 L358.0,826.0 L359.0,826.0 L360.0,826.0 L361.0,826.0 L362.0,826.0 L363.0,826.0 L364.0,826.0 L365.0,826.0 L366.0,826.0 L367.0,826.0 L368.0,826.0 L369.0,826.0 L370.0,826.0 L371.0,826.0 L372.0,826.0 L373.0,826.0 L374.0,826.0 L375.0,826.0 L376.0,826.0 L377.0,826.0 L378.0,826.0 L379.0,826.0 L380.0,826.0 L381.0,826.0 L382.0,826.0 L383.0,826.0 L384.0,826.0 L385.0,826.0 L386.0,826.0 L387.0,826.0 L388.0,826.0 L389.0,826.0 L390.0,826.0 L391.0,826.0 L392.0,826.0 L393.0,826.0 L394.0,826.0 L395.0,826.0 L396.0,826.0 L397.0,826.0 L398.0,826.0 L399.0,826.0 L400.0,826.0 L401.0,826.0 L402.0,826.0 L403.0,826.0 L404.0,826.0 L405.0,826.0 L406.0,826.0 L407.0,826.0 L408.0,826.0 L409.0,826.0 L410.0,826.0 L411.0,826.0 L412.0,826.0 L413.0,826.0 L414.0,826.0 L415.0,826.0 L416.0,826.0 L417.0,826.0 L418.0,826.0 L419.0,826.0 L420.0,826.0 L421.0,826.0 L422.0,826.0 L423.0,826.0 L424.0,826.0 L425.0,826.0 L426.0,826.0 L427.0,826.0 L428.0,826.0 L429.0,826.0 L430.0,826.0 L431.0,826.0 L432.0,826.0 L433.0,825.9 L434.0,825.9 L435.0,825.9 L436.0,825.9 L437.0,825.8 L438.0,825.8 L439.0,825.7 L440.0,825.7 L441.0,825.6 L442.0,825.6 L443.0,825.5 L444.0,825.4 L445.0,825.3 L446.0,825.2 L447.0,825.1 L448.0,825.0 L449.0,824.9 L450.0,824.8 L451.0,824.6 L452.0,824.5 L453.0,824.3 L454.0,824.1 L455.0,823.9 L456.0,823.7 L457.0,823.5 L458.0,823.3 L459.0,823.0 L460.0,822.8 L461.0,822.5 L462.0,822.3 L463.0,822.0 L464.0,821.7 L465.0,821.4 L466.0,821.0 L467.0,820.7 L468.0,820.3 L469.0,819.9 L470.0,819.6 L471.0,819.1 L472.0,818.7 L473.0,818.3 L474.0,817.8 L475.0,817.4 L476.0,816.9 L477.0,816.4 L478.0,815.8 L479.0,815.3 L480.0,814.8 L481.0,814.2 L482.0,813.6 L483.0,813.0 L484.0,812.4 L485.0,811.7 L486.0,811.1 L487.0,810.4 L488.0,809.7 L489.0,809.0 L490.0,808.2 L491.0,807.5 L492.0,806.7 L493.0,805.9 L494.0,805.1 L495.0,804.2 L496.0,803.4 L497.0,802.5 L498.0,801.6 L499.0,800.7 L500.0,799.8 L501.0,798.8 L502.0,797.9 L503.0,796.9 L504.0,795.9 L505.0,794.8 L506.0,793.8 L507.0,792.7 L508.0,791.6 L509.0,790.5 L510.0,789.3 L511.0,788.2 L512.0,787.0 L513.0,785.8 L514.0,784.6 L515.0,783.3 L516.0,782.1 L517.0,780.8 L518.0,779.5 L519.0,778.2 L520.0,776.8 L521.0,775.5 L522.0,774.1 L523.0,772.7 L524.0,771.2 L525.0,769.8 L526.0,768.3 L527.0,766.8 L528.0,765.3 L528.9,763.7 L529.9,762.2 L530.9,760.6 L531.9,759.0 L532.9,757.4 L533.9,755.7 L534.9,754.1 L535.8,752.4 L536.8,750.7 L537.8,748.9 L538.8,747.2 L539.8,745.4 L540.7,743.6 L541.7,741.8 L542.7,740.0 L543.7,738.1 L544.7,736.3 L545.6,734.4 L546.6,732.4 L547.6,730.5 L548.6,728.6 L549.5,726.6 L550.5,724.6 L551.5,722.6 L552.5,720.5 L553.4,718.5 L554.4,716.4 L555.4,714.3 L556.3,712.2 L557.3,710.0 L558.3,707.9 L559.3,705.7 L560.2,703.5 L561.2,701.3 L562.2,699.1 L563.2,696.8 L564.1,694.5 L565.1,692.3 L566.1,690.0 L567.1,687.6 L568.1,685.3 L569.0,682.9 L570.0,680.5 L571.0,678.1 L572.0,675.7 L573.0,673.3 L573.9,670.8 L574.9,668.4 L575.9,665.9 L576.9,663.4 L577.9,660.9 L578.9,658.3 L579.9,655.8 L580.8,653.2 L581.8,650.6 L582.8,648.0 L583.8,645.4 L584.8,642.7 L585.8,640.1 L586.8,637.4 L587.8,634.7 L588.8,632.0 L589.8,629.3 L590.8,626.6 L591.8,623.9 L592.8,621.1 L593.8,618.3 L594.8,615.5 L595.8,612.7 L596.8,609.9 L597.8,607.1 L598.8,604.3 L599.8,601.4 L600.8,598.5 L601.8,595.7 L602.8,592.8 L603.8,589.9 L604.8,586.9 L605.8,584.0 L606.8,581.1 L607.8,578.1 L608.8,575.2 L609.8,572.2 L610.8,569.2 L611.8,566.2 L612.8,563.2 L613.8,560.2 L614.8,557.1 L615.8,554.1 L616.8,551.1 L617.8,548.0 L618.8,544.9 L619.8,541.9 L620.8,538.8 L621.8,535.7 L622.8,532.6 L623.8,529.5 L624.8,526.3 L625.8,523.2 L626.8,520.1 L627.8,516.9 L628.8,513.8 L629.8,510.6 L630.8,507.5 L631.8,504.3 L632.8,501.1 L633.8,497.9 L634.8,494.8 L635.8,491.6 L636.8,488.4 L637.8,485.2 L638.8,482.0 L639.8,478.7 L640.8,475.5 L641.8,472.3 L642.8,469.1 L643.8,465.8 L644.8,462.6 L645.8,459.4 L646.8,456.1 L647.8,452.9 L648.8,449.7 L649.8,446.4 L650.8,443.2 L651.8,439.9 L652.8,436.7 L653.8,433.4 L654.8,430.2 L655.8,426.9 L656.8,423.7 L657.8,420.4 L658.8,417.1 L659.8,413.9 L660.8,410.6 L661.8,407.4 L662.8,404.1 L663.8,400.9 L664.8,397.6 L665.8,394.4 L666.8,391.1 L667.8,387.9 L668.8,384.7 L669.8,381.4 L670.8,378.2 L671.8,374.9 L672.8,371.7 L673.8,368.5 L674.8,365.3 L675.8,362.0 L676.8,358.8 L677.8,355.6 L678.8,352.4 L679.8,349.2 L680.8,346.0 L681.8,342.8 L682.8,339.7 L683.8,336.5 L684.8,333.3 L685.8,330.1 L686.8,327.0 L687.8,323.8 L688.8,320.7 L689.8,317.6 L690.8,314.4 L691.8,311.3 L692.8,308.2 L693.8,305.1 L694.8,302.0 L695.8,298.9 L696.8,295.8 L697.8,292.8 L698.8,289.7 L699.8,286.7 L700.8,283.6 L701.8,280.6 L702.8,277.6 L703.8,274.6 L704.8,271.6 L705.8,268.6 L706.8,265.6 L707.8,262.7 L708.8,259.7 L709.8,256.8 L710.8,253.8 L711.8,250.9 L712.8,248.0 L713.8,245.1 L714.8,242.3 L715.8,239.4 L716.8,236.6 L717.8,233.7 L718.8,230.9 L719.8,228.1 L720.8,225.3 L721.8,222.5 L722.8,219.8 L723.8,217.0 L724.8,214.3 L725.8,211.6 L726.8,208.9 L727.8,206.2 L728.8,203.5 L729.8,200.8 L730.8,198.2 L731.8,195.6 L732.8,193.0 L733.8,190.4 L734.8,187.8 L735.8,185.2 L736.8,182.7 L737.8,180.2 L738.8,177.7 L739.8,175.2 L740.8,172.7 L741.8,170.3 L742.8,167.8 L743.8,165.4 L744.8,163.0 L745.8,160.7 L746.8,158.3 L747.8,156.0 L748.8,153.6 L749.8,151.3 L750.8,149.1 L751.8,146.8 L752.8,144.6 L753.8,142.3 L754.8,140.1 L755.8,137.9 L756.8,135.8 L757.8,133.6 L758.8,131.5 L759.8,129.4 L760.8,127.3 L761.8,125.3 L762.8,123.2 L763.8,121.2 L764.8,119.2 L765.8,117.2 L766.8,115.3 L767.8,113.4 L768.8,111.4 L769.8,109.6 L770.8,107.7 L771.8,105.8 L772.8,104.0 L773.8,102.2 L774.8,100.4 L775.8,98.7 L776.8,96.9 L777.8,95.2 L778.8,93.5 L779.8,91.9 L780.8,90.2 L781.8,88.6 L782.8,87.0 L783.8,85.4 L784.8,83.8 L785.8,82.3 L786.8,80.8 L787.8,79.3 L788.8,77.8 L789.8,76.4 L790.8,74.9 L791.8,73.5 L792.8,72.2 L793.8,70.8 L794.8,69.5 L795.8,68.2 L796.8,66.9 L797.8,65.6 L798.8,64.4 L799.8,63.1 L800.8,61.9 L801.8,60.8 L802.8,59.6 L803.8,58.5 L804.8,57.4 L805.8,56.3 L806.9,55.2 L807.9,54.2 L808.9,53.1 L809.9,52.1 L810.9,51.2 L811.9,50.2 L813.0,49.3 L814.0,48.3 L815.0,47.5 L816.0,46.6 L817.1,45.7 L818.1,44.9 L819.1,44.1 L820.1,43.3 L821.2,42.6 L822.2,41.8 L823.2,41.1 L824.3,40.4 L825.3,39.7 L826.3,39.0 L827.3,38.4 L828.4,37.8 L829.4,37.2 L830.4,36.6 L831.5,36.0 L832.5,35.5 L833.5,34.9 L834.5,34.4 L835.6,33.9 L836.6,33.5 L837.6,33.0 L838.7,32.6 L839.7,32.2 L840.7,31.8 L841.7,31.4 L842.8,31.0 L843.8,30.7 L844.8,30.3 L845.8,30.0 L846.9,29.7 L847.9,29.4 L848.9,29.1 L849.9,28.9 L850.9,28.6 L851.9,28.4 L853.0,28.2 L854.0,28.0 L855.0,27.8 L856.0,27.6 L857.0,27.5 L858.0,27.3 L859.0,27.2 L860.0,27.1 L861.0,26.9 L862.0,26.8 L863.0,26.7 L864.0,26.7 L865.0,26.6 L866.0,26.5 L867.0,26.5 L868.0,26.4 L869.0,26.4 L870.0,26.3 L871.0,26.3 L872.0,26.3 L873.0,26.2 L874.0,26.2 L875.0,26.2 L876.0,26.2 L877.0,26.2 L878.0,26.2 L879.0,26.2 L880.0,26.2 L881.0,26.2 L882.0,26.2 L883.0,26.2 L884.0,26.2 L885.0,26.2 L886.0,26.2 L887.0,26.2 L888.0,26.2 L889.0,26.2 L890.0,26.2 L891.0,26.2 L892.0,26.2 L893.0,26.2 L894.0,26.2 L895.0,26.2 L896.0,26.2 L897.0,26.2 L898.0,26.2 L899.0,26.2 L900.0,26.2 L901.0,26.2 L902.0,26.2 L903.0,26.2 L904.0,26.2 L905.0,26.2 L906.0,26.2 L907.0,26.2 L908.0,26.2 L909.0,26.2 L910.0,26.2 L911.0,26.2 L912.0,26.2 L913.0,26.2 L914.0,26.2 L915.0,26.2 L916.0,26.2 L917.0,26.2 L918.0,26.2 L919.0,26.2 L920.0,26.2 L921.0,26.2 L922.0,26.2 L923.0,26.2 L924.0,26.2 L925.0,26.2 L926.0,26.2 L927.0,26.2 L928.0,26.2 L929.0,26.2 L930.0,26.2 L931.0,26.2 L932.0,26.2 L933.0,26.2 L934.0,26.2 L935.0,26.2 L936.0,26.2 L937.0,26.2 L938.0,26.2 L939.0,26.2 L940.0,26.2 L941.0,26.2 L942.0,26.2 L943.0,26.2 L944.0,26.2 L945.0,26.2 L946.0,26.2 L947.0,26.2 L948.0,26.2 L949.0,26.2 L950.0,26.2 L951.0,26.2 L952.0,26.2 L953.0,26.2 L954.0,26.2 L955.0,26.2 L956.0,26.2 L957.0,26.2 L958.0,26.2 L959.0,26.2 L960.0,26.2 L961.0,26.2 L962.0,26.2 L963.0,26.2 L964.0,26.2 L965.0,26.2 L966.0,26.2 L967.0,26.2 L968.0,26.2 L969.0,26.2 L970.0,26.2 L971.0,26.2 L972.0,26.2 L973.0,26.2 L974.0,26.2 L975.0,26.2 L976.0,26.2 L977.0,26.2 L978.0,26.2 L979.0,26.2 L980.0,26.2 L981.0,26.2 L982.0,26.2 L983.0,26.2 L984.0,26.2 L985.0,26.2 L986.0,26.2 L987.0,26.2 L988.0,26.2 L989.0,26.2 L990.0,26.2 L991.0,26.2 L992.0,26.2 L993.0,26.2 L994.0,26.2 L995.0,26.2 L996.0,26.2 L997.0,26.2 L998.0,26.2 L999.0,26.2 L1000.0,26.2 L1001.0,26.2 L1002.0,26.2 L1003.0,26.2 L1004.0,26.2 L1005.0,26.2 L1006.0,26.2 L1007.0,26.2 L1008.0,26.2 L1009.0,26.2 L1010.0,26.2 L1011.0,26.2 L1012.0,26.2 L1013.0,26.2 L1014.0,26.2 L1015.0,26.2 L1016.0,26.2 L1017.0,26.2 L1018.0,26.2 L1019.0,26.2 L1020.0,26.2 L1021.0,26.2 L1022.0,26.2 L1023.0,26.2 L1024.0,26.2 L1025.0,26.2 L1026.0,26.2 L1027.0,26.2 L1028.0,26.2 L1029.0,26.2 L1030.0,26.2 L1031.0,26.2 L1032.0,26.2 L1033.0,26.2 L1034.0,26.2 L1035.0,26.2 L1036.0,26.2 L1037.0,26.2 L1038.0,26.2 L1039.0,26.2 L1040.0,26.2 L1041.0,26.2 L1042.0,26.2 L1043.0,26.2 L1044.0,26.2 L1045.0,26.2 L1046.0,26.2 L1047.0,26.2 L1048.0,26.2 L1049.0,26.2 L1050.0,26.2 L1051.0,26.2 L1052.0,26.2 L1053.0,26.2 L1054.0,26.2 L1055.0,26.2 L1056.0,26.2 L1057.0,26.2 L1058.0,26.2 L1059.0,26.2 L1060.0,26.2 L1061.0,26.2 L1062.0,26.2 L1063.0,26.2 L1064.0,26.2 L1065.0,26.2 L1066.0,26.2 L1067.0,26.2 L1068.0,26.2 L1069.0,26.2 L1070.0,26.2 L1071.0,26.2 L1072.0,26.2 L1073.0,26.2 L1074.0,26.2 L1075.0,26.2 L1076.0,26.2 L1077.0,26.2 L1078.0,26.2 L1079.0,26.2 L1080.0,26.2 L1081.0,26.2 L1082.0,26.2 L1083.0,26.2 L1084.0,26.2 L1085.0,26.2 L1086.0,26.2 L1087.0,26.2 L1088.0,26.2 L1089.0,26.2 L1090.0,26.2 L1091.0,26.2 L1092.0,26.2 L1093.0,26.2 L1094.0,26.2 L1095.0,26.2 L1096.0,26.2 L1097.0,26.2 L1098.0,26.2 L1099.0,26.2 L1100.0,26.2 L1101.0,26.2 L1102.0,26.2 L1103.0,26.2 L1104.0,26.2 L1105.0,26.2 L1106.0,26.2 L1107.0,26.2 L1108.0,26.2 L1109.0,26.2 L1110.0,26.2 L1111.0,26.2 L1112.0,26.2 L1113.0,26.2 L1114.0,26.2 L1115.0,26.2 L1116.0,26.2 L1117.0,26.2 L1118.0,26.2 L1119.0,26.2 L1120.0,26.2 L1121.0,26.2 L1122.0,26.2 L1123.0,26.2 L1124.0,26.2 L1125.0,26.2 L1126.0,26.2 L1127.0,26.2 L1128.0,26.2 L1129.0,26.2 L1130.0,26.2 L1131.0,26.2 L1132.0,26.2 L1133.0,26.2 L1134.0,26.2 L1135.0,26.2 L1136.0,26.2 L1137.0,26.2 L1138.0,26.2 L1139.0,26.2 L1140.0,26.2 L1141.0,26.2 L1142.0,26.2 L1143.0,26.2 L1144.0,26.2 L1145.0,26.2 L1146.0,26.2 L1147.0,26.2 L1148.0,26.2 L1149.0,26.2 L1150.0,26.2 L1151.0,26.2 L1152.0,26.2 L1153.0,26.2 L1154.0,26.2 L1155.0,26.2 L1156.0,26.2 L1157.0,26.2 L1158.0,26.2 L1159.0,26.2 L1160.0,26.2 L1161.0,26.2 L1162.0,26.2 L1163.0,26.2 L1164.0,26.2 L1165.0,26.2 L1166.0,26.2 L1167.0,26.2 L1168.0,26.2 L1169.0,26.2 L1170.0,26.2 L1171.0,26.2 L1172.0,26.2 L1173.0,26.2 L1174.0,26.2 L1175.0,26.2 L1176.0,26.2 L1177.0,26.2 L1178.0,26.2 L1179.0,26.2 L1180.0,26.2 L1181.0,26.2 L1182.0,26.2 L1183.0,26.2 L1184.0,26.2 L1185.0,26.2 L1186.0,26.2 L1187.0,26.2 L1188.0,26.2 L1189.0,26.2 L1190.0,26.2 L1191.0,26.2 L1192.0,26.2 L1193.0,26.2 L1194.0,26.2 L1195.0,26.2 L1196.0,26.2 L1197.0,26.2 L1198.0,26.2 L1199.0,26.2 L1200.0,26.2 L1201.0,26.2 L1202.0,26.2 L1203.0,26.2 L1204.0,26.2 L1205.0,26.2 L1206.0,26.2 L1207.0,26.2 L1208.0,26.2 L1209.0,26.2 L1210.0,26.2 L1211.0,26.2 L1212.0,26.2 L1213.0,26.2 L1214.0,26.2 L1215.0,26.2 L1216.0,26.2 L1217.0,26.2 L1218.0,26.2 L1219.0,26.2 L1220.0,26.2 L1221.0,26.2 L1222.0,26.2 L1223.0,26.2 L1224.0,26.2 L1225.0,26.2 L1226.0,26.2 L1227.0,26.2 L1228.0,26.2 L1229.0,26.2 L1230.0,26.2 L1231.0,26.2 L1232.0,26.2 L1233.0,26.2 L1234.0,26.2 L1235.0,26.2 L1236.0,26.2 L1237.0,26.2 L1238.0,26.2 L1239.0,26.2 L1240.0,26.2 L1241.0,26.2 L1242.0,26.2 L1243.0,26.2 L1244.0,26.2 L1245.0,26.2 L1246.0,26.2 L1247.0,26.2 L1248.0,26.2 L1249.0,26.2 L1250.0,26.2 L1251.0,26.2 L1252.0,26.2 L1253.0,26.2 L1254.0,26.2 L1255.0,26.2 L1256.0,26.2 L1257.0,26.2 L1258.0,26.2 L1259.0,26.2 L1260.0,26.2 L1261.0,26.2 L1262.0,26.2 L1263.0,26.2 L1264.0,26.2 L1265.0,26.2 L1266.0,26.2 L1267.0,26.2 L1268.0,26.2 L1269.0,26.2 L1270.0,26.2 L1271.0,26.2 L1272.0,26.2 L1273.0,26.2 L1274.0,26.2 L1275.0,26.2 L1276.0,26.2 L1277.0,26.2 L1278.0,26.2 L1279.0,26.2 L1280.0,26.2 L1281.0,26.2 L1282.0,26.2 L1283.0,26.2 L1284.0,26.2 L1285.0,26.2 L1286.0,26.2 L1287.0,26.2 L1288.0,26.2 L1289.0,26.2 L1290.0,26.2 L1291.0,26.2 L1292.0,26.2 L1293.0,26.2 L1294.0,26.2 L1295.0,26.2 L1296.0,26.2 L1297.0,26.2 L1298.0,26.2 L1299.0,26.2 L1300.0,26.2 L1301.0,26.2 L1302.0,26.2 L1303.0,26.2 L1304.0,26.2 L1305.0,26.2 L1306.0,26.2 L1307.0,26.2 L1308.0,26.2 L1309.0,26.2 L1310.0,26.2 L1311.0,26.2 L1312.0,26.2 L1313.0,26.2 L1314.0,26.2 L1315.0,26.2 L1316.0,26.2 L1317.0,26.2 L1318.0,26.2 L1319.0,26.2 L1320.0,26.2 L1321.0,26.2 L1322.0,26.2 L1323.0,26.2 L1324.0,26.2 L1325.0,26.2 L1326.0,26.2 L1327.0,26.2 L1328.0,26.2 L1329.0,26.2 L1330.0,26.2 L1331.0,26.2 L1332.0,26.2 L1333.0,26.2 L1334.0,26.2 L1335.0,26.2 L1336.0,26.2 L1337.0,26.2 L1338.0,26.2 L1339.0,26.2 L1340.0,26.2 L1341.0,26.2 L1342.0,26.2 L1343.0,26.2 L1344.0,26.2 L1345.0,26.2 L1346.0,26.2 L1347.0,26.2 L1348.0,26.2 L1349.0,26.2 L1350.0,26.2 L1351.0,26.2 L1352.0,26.2 L1353.0,26.2 L1354.0,26.2 L1355.0,26.2 L1356.0,26.2 L1357.0,26.2 L1358.0,26.2 L1359.0,26.2 L1360.0,26.2 L1361.0,26.2 L1362.0,26.2 L1363.0,26.2 L1364.0,26.2 L1365.0,26.2 L1366.0,26.2 L1367.0,26.2 L1368.0,26.2 L1369.0,26.2 L1370.0,26.2 L1371.0,26.2 L1372.0,26.2 L1373.0,26.2 L1374.0,26.2 L1375.0,26.2 L1376.0,26.2 L1377.0,26.2 L1378.0,26.2 L1379.0,26.2 L1380.0,26.2 L1381.0,26.2 L1382.0,26.2 L1383.0,26.2 L1384.0,26.2 L1385.0,26.2 L1386.0,26.2 L1387.0,26.2 L1388.0,26.2 L1389.0,26.2 L1390.0,26.2 L1391.0,26.2 L1392.0,26.2 L1393.0,26.2 L1394.0,26.2 L1395.0,26.2 L1396.0,26.2 L1397.0,26.2 L1398.0,26.2 L1399.0,26.2 L1400.0,26.2 L1401.0,26.2 L1402.0,26.2 L1403.0,26.2 L1404.0,26.2 L1405.0,26.2 L1406.0,26.2 L1407.0,26.2 L1408.0,26.2 L1409.0,26.2 L1410.0,26.2 L1411.0,26.2 L1412.0,26.2 L1413.0,26.2 L1414.0,26.2 L1415.0,26.2 L1416.0,26.2 L1417.0,26.2 L1418.0,26.2 L1419.0,26.2 L1420.0,26.2 L1421.0,26.2 L1422.0,26.2 L1423.0,26.2 L1424.0,26.2 L1425.0,26.2 L1426.0,26.2 L1427.0,26.2 L1428.0,26.2 L1429.0,26.2 L1430.0,26.2 L1431.0,26.2 L1432.0,26.2 L1433.0,26.2 L1434.0,26.2 L1435.0,26.2 L1436.0,26.2 L1437.0,26.2 L1438.0,26.2 L1439.0,26.2 L1440.0,26.2 L1441.0,26.2 L1442.0,26.2 L1443.0,26.2 L1444.0,26.2 L1445.0,26.2 L1446.0,26.2 L1447.0,26.2 L1448.0,26.2 L1449.0,26.2 L1450.0,26.2 L1451.0,26.2 L1452.0,26.2 L1453.0,26.2 L1454.0,26.2 L1455.0,26.2 L1456.0,26.2 L1457.0,26.2 L1458.0,26.2 L1459.0,26.2 L1460.0,26.2 L1461.0,26.2 L1462.0,26.2 L1463.0,26.2 L1464.0,26.2 L1465.0,26.2 L1466.0,26.2 L1467.0,26.2 L1468.0,26.2 L1469.0,26.2 L1470.0,26.2 L1471.0,26.2 L1472.0,26.2 L1473.0,26.2 L1474.0,26.2 L1475.0,26.2 L1476.0,26.2 L1477.0,26.2 L1478.0,26.2 L1479.0,26.2 L1480.0,26.2 L1481.0,26.2 L1482.0,26.2 L1483.0,26.2 L1484.0,26.2 L1485.0,26.2 L1486.0,26.2 L1487.0,26.2 L1488.0,26.2 L1489.0,26.2 L1490.0,26.2 L1491.0,26.2 L1492.0,26.2 L1493.0,26.2 L1494.0,26.2 L1495.0,26.2 L1496.0,26.2 L1497.0,26.2 L1498.0,26.2 L1499.0,26.2 L1500.0,26.2 L1501.0,26.2 L1502.0,26.2 L1503.0,26.2 L1504.0,26.2 L1505.0,26.2 L1506.0,26.2 L1507.0,26.2 L1508.0,26.2 L1509.0,26.2 L1510.0,26.2 L1511.0,26.2 L1512.0,26.2 L1513.0,26.2 L1514.0,26.2 L1515.0,26.2 L1516.0,26.2 L1517.0,26.2 L1518.0,26.2 L1519.0,26.2" fill="none" stroke="#00AEEF" stroke-width="10.6" stroke-linecap="round" stroke-linejoin="round"/>
<path id="red" d="M423.3,826.0 L424.3,826.0 L425.3,826.0 L426.3,826.0 L427.3,826.0 L428.3,826.0 L429.3,826.0 L430.3,826.0 L431.3,826.0 L432.3,826.0 L433.3,826.0 L434.3,826.0 L435.3,826.0 L436.3,826.0 L437.3,826.0 L438.3,826.0 L439.3,826.0 L440.3,825.9 L441.3,825.9 L442.3,825.9 L443.3,825.9 L444.3,825.9 L445.3,825.9 L446.3,825.9 L447.3,825.8 L448.3,825.8 L449.3,825.8 L450.3,825.8 L451.3,825.7 L452.3,825.7 L453.3,825.7 L454.3,825.6 L455.3,825.6 L456.3,825.6 L457.3,825.5 L458.3,825.5 L459.3,825.4 L460.3,825.4 L461.3,825.3 L462.3,825.3 L463.3,825.2 L464.3,825.2 L465.3,825.1 L466.3,825.0 L467.3,825.0 L468.3,824.9 L469.3,824.8 L470.3,824.7 L471.3,824.6 L472.3,824.6 L473.3,824.5 L474.3,824.4 L475.3,824.3 L476.3,824.2 L477.3,824.1 L478.3,824.0 L479.3,823.9 L480.3,823.7 L481.3,823.6 L482.3,823.5 L483.3,823.4 L484.3,823.3 L485.3,823.1 L486.3,823.0 L487.3,822.8 L488.3,822.7 L489.3,822.5 L490.3,822.4 L491.3,822.2 L492.3,822.1 L493.3,821.9 L494.3,821.7 L495.3,821.5 L496.3,821.4 L497.3,821.2 L498.3,821.0 L499.3,820.8 L500.3,820.6 L501.3,820.4 L502.3,820.2 L503.3,819.9 L504.3,819.7 L505.3,819.5 L506.3,819.3 L507.3,819.0 L508.3,818.8 L509.3,818.5 L510.3,818.3 L511.3,818.0 L512.3,817.8 L513.3,817.5 L514.3,817.2 L515.3,817.0 L516.3,816.7 L517.3,816.4 L518.3,816.1 L519.3,815.8 L520.3,815.5 L521.3,815.2 L522.3,814.8 L523.3,814.5 L524.3,814.2 L525.3,813.9 L526.3,813.5 L527.3,813.2 L528.3,812.8 L529.3,812.5 L530.3,812.1 L531.3,811.7 L532.3,811.4 L533.3,811.0 L534.3,810.6 L535.3,810.2 L536.3,809.8 L537.3,809.4 L538.3,809.0 L539.3,808.6 L540.3,808.1 L541.3,807.7 L542.3,807.3 L543.3,806.8 L544.3,806.4 L545.3,805.9 L546.3,805.5 L547.3,805.0 L548.3,804.5 L549.3,804.0 L550.3,803.5 L551.3,803.0 L552.3,802.5 L553.3,802.0 L554.3,801.5 L555.3,801.0 L556.3,800.5 L557.3,799.9 L558.3,799.4 L559.3,798.9 L560.3,798.3 L561.3,797.7 L562.3,797.2 L563.3,796.6 L564.3,796.0 L565.3,795.4 L566.3,794.8 L567.3,794.2 L568.3,793.6 L569.3,793.0 L570.3,792.4 L571.3,791.8 L572.3,791.2 L573.3,790.5 L574.3,789.9 L575.3,789.2 L576.3,788.6 L577.3,787.9 L578.3,787.2 L579.3,786.5 L580.3,785.8 L581.3,785.1 L582.3,784.4 L583.3,783.7 L584.3,783.0 L585.3,782.3 L586.3,781.6 L587.3,780.8 L588.3,780.1 L589.3,779.3 L590.3,778.6 L591.3,777.8 L592.3,777.1 L593.3,776.3 L594.3,775.5 L595.3,774.7 L596.3,773.9 L597.3,773.1 L598.3,772.3 L599.3,771.5 L600.3,770.7 L601.3,769.8 L602.3,769.0 L603.3,768.1 L604.3,767.3 L605.3,766.4 L606.3,765.6 L607.3,764.7 L608.3,763.8 L609.3,762.9 L610.3,762.0 L611.3,761.1 L612.3,760.2 L613.3,759.3 L614.3,758.4 L615.3,757.5 L616.3,756.5 L617.3,755.6 L618.3,754.6 L619.3,753.7 L620.3,752.7 L621.3,751.7 L622.3,750.8 L623.3,749.8 L624.3,748.8 L625.3,747.8 L626.3,746.8 L627.3,745.8 L628.3,744.8 L629.3,743.7 L630.3,742.7 L631.3,741.7 L632.3,740.6 L633.3,739.6 L634.3,738.5 L635.3,737.5 L636.3,736.4 L637.3,735.3 L638.3,734.2 L639.3,733.1 L640.3,732.0 L641.3,730.9 L642.3,729.8 L643.3,728.7 L644.3,727.6 L645.3,726.5 L646.3,725.3 L647.3,724.2 L648.3,723.0 L649.3,721.9 L650.3,720.7 L651.3,719.5 L652.3,718.4 L653.3,717.2 L654.3,716.0 L655.3,714.8 L656.3,713.6 L657.3,712.4 L658.3,711.2 L659.3,710.0 L660.3,708.7 L661.3,707.5 L662.3,706.3 L663.3,705.0 L664.3,703.8 L665.3,702.5 L666.3,701.2 L667.3,700.0 L668.3,698.7 L669.3,697.4 L670.3,696.1 L671.3,694.8 L672.3,693.5 L673.3,692.2 L674.3,690.9 L675.3,689.6 L676.3,688.3 L677.3,687.0 L678.3,685.6 L679.3,684.3 L680.3,682.9 L681.3,681.6 L682.3,680.2 L683.3,678.9 L684.3,677.5 L685.3,676.1 L686.3,674.7 L687.3,673.3 L688.3,671.9 L689.3,670.6 L690.3,669.1 L691.3,667.7 L692.3,666.3 L693.3,664.9 L694.3,663.5 L695.3,662.0 L696.3,660.6 L697.3,659.2 L698.3,657.7 L699.3,656.3 L700.3,654.8 L701.3,653.3 L702.3,651.9 L703.3,650.4 L704.3,648.9 L705.3,647.4 L706.3,646.0 L707.3,644.5 L708.3,643.0 L709.3,641.5 L710.3,639.9 L711.3,638.4 L712.3,636.9 L713.3,635.4 L714.3,633.9 L715.3,632.3 L716.3,630.8 L717.3,629.2 L718.3,627.7 L719.3,626.1 L720.3,624.6 L721.3,623.0 L722.3,621.5 L723.3,619.9 L724.3,618.3 L725.3,616.7 L726.3,615.1 L727.3,613.6 L728.3,612.0 L729.3,610.4 L730.3,608.8 L731.3,607.2 L732.3,605.6 L733.3,603.9 L734.3,602.3 L735.3,600.7 L736.3,599.1 L737.3,597.4 L738.3,595.8 L739.3,594.2 L740.3,592.5 L741.3,590.9 L742.3,589.2 L743.3,587.6 L744.3,585.9 L745.3,584.2 L746.3,582.6 L747.3,580.9 L748.3,579.2 L749.3,577.6 L750.3,575.9 L751.3,574.2 L752.3,572.5 L753.3,570.8 L754.3,569.1 L755.3,567.4 L756.3,565.7 L757.3,564.0 L758.3,562.3 L759.3,560.6 L760.3,558.9 L761.3,557.2 L762.3,555.5 L763.3,553.7 L764.3,552.0 L765.3,550.3 L766.3,548.5 L767.3,546.8 L768.3,545.1 L769.3,543.3 L770.3,541.6 L771.3,539.8 L772.3,538.1 L773.3,536.3 L774.3,534.6 L775.3,532.8 L776.3,531.1 L777.3,529.3 L778.3,527.5 L779.3,525.8 L780.3,524.0 L781.3,522.2 L782.3,520.5 L783.3,518.7 L784.3,516.9 L785.3,515.1 L786.3,513.3 L787.3,511.6 L788.3,509.8 L789.3,508.0 L790.3,506.2 L791.3,504.4 L792.3,502.6 L793.3,500.8 L794.3,499.0 L795.3,497.2 L796.3,495.4 L797.3,493.6 L798.3,491.8 L799.3,490.0 L800.3,488.2 L801.3,486.4 L802.3,484.6 L803.3,482.8 L804.3,481.0 L805.3,479.1 L806.3,477.3 L807.3,475.5 L808.3,473.7 L809.3,471.9 L810.3,470.1 L811.3,468.2 L812.3,466.4 L813.3,464.6 L814.3,462.8 L815.3,460.9 L816.3,459.1 L817.3,457.3 L818.3,455.5 L819.3,453.6 L820.3,451.8 L821.3,450.0 L822.3,448.1 L823.3,446.3 L824.3,444.5 L825.3,442.7 L826.3,440.8 L827.3,439.0 L828.3,437.2 L829.3,435.3 L830.3,433.5 L831.3,431.7 L832.3,429.8 L833.3,428.0 L834.3,426.2 L835.3,424.3 L836.3,422.5 L837.3,420.7 L838.3,418.8 L839.3,417.0 L840.3,415.2 L841.3,413.3 L842.3,411.5 L843.3,409.7 L844.3,407.8 L845.3,406.0 L846.3,404.2 L847.3,402.3 L848.3,400.5 L849.3,398.7 L850.3,396.9 L851.3,395.0 L852.3,393.2 L853.3,391.4 L854.3,389.6 L855.3,387.7 L856.3,385.9 L857.3,384.1 L858.3,382.3 L859.3,380.5 L860.3,378.6 L861.3,376.8 L862.3,375.0 L863.3,373.2 L864.3,371.4 L865.3,369.6 L866.3,367.8 L867.3,365.9 L868.3,364.1 L869.3,362.3 L870.3,360.5 L871.3,358.7 L872.3,356.9 L873.3,355.1 L874.3,353.3 L875.3,351.5 L876.3,349.7 L877.3,347.9 L878.3,346.1 L879.3,344.4 L880.3,342.6 L881.3,340.8 L882.3,339.0 L883.3,337.2 L884.3,335.4 L885.3,333.7 L886.3,331.9 L887.3,330.1 L888.3,328.3 L889.3,326.6 L890.3,324.8 L891.3,323.1 L892.3,321.3 L893.3,319.5 L894.3,317.8 L895.3,316.0 L896.3,314.3 L897.3,312.5 L898.3,310.8 L899.3,309.0 L900.3,307.3 L901.3,305.6 L902.3,303.8 L903.3,302.1 L904.3,300.4 L905.3,298.7 L906.3,296.9 L907.3,295.2 L908.3,293.5 L909.3,291.8 L910.3,290.1 L911.3,288.4 L912.3,286.7 L913.3,285.0 L914.3,283.3 L915.3,281.6 L916.3,279.9 L917.3,278.2 L918.3,276.5 L919.3,274.9 L920.3,273.2 L921.3,271.5 L922.3,269.8 L923.3,268.2 L924.3,266.5 L925.3,264.9 L926.3,263.2 L927.3,261.6 L928.3,259.9 L929.3,258.3 L930.3,256.6 L931.3,255.0 L932.3,253.4 L933.3,251.7 L934.3,250.1 L935.3,248.5 L936.3,246.9 L937.3,245.3 L938.3,243.7 L939.3,242.1 L940.3,240.5 L941.3,238.9 L942.3,237.3 L943.3,235.7 L944.3,234.2 L945.3,232.6 L946.3,231.0 L947.3,229.4 L948.3,227.9 L949.3,226.3 L950.3,224.8 L951.3,223.2 L952.3,221.7 L953.3,220.2 L954.3,218.6 L955.3,217.1 L956.3,215.6 L957.3,214.1 L958.3,212.6 L959.3,211.0 L960.3,209.5 L961.3,208.1 L962.3,206.6 L963.3,205.1 L964.3,203.6 L965.3,202.1 L966.3,200.6 L967.3,199.2 L968.3,197.7 L969.3,196.3 L970.3,194.8 L971.3,193.4 L972.3,191.9 L973.3,190.5 L974.3,189.1 L975.3,187.6 L976.3,186.2 L977.3,184.8 L978.3,183.4 L979.3,182.0 L980.3,180.6 L981.3,179.2 L982.3,177.8 L983.3,176.4 L984.3,175.1 L985.3,173.7 L986.3,172.3 L987.3,171.0 L988.3,169.6 L989.3,168.3 L990.3,167.0 L991.3,165.6 L992.3,164.3 L993.3,163.0 L994.3,161.7 L995.3,160.3 L996.3,159.0 L997.3,157.7 L998.3,156.5 L999.3,155.2 L1000.3,153.9 L1001.3,152.6 L1002.3,151.4 L1003.3,150.1 L1004.3,148.8 L1005.3,147.6 L1006.3,146.3 L1007.3,145.1 L1008.3,143.9 L1009.3,142.7 L1010.3,141.4 L1011.3,140.2 L1012.3,139.0 L1013.3,137.8 L1014.3,136.6 L1015.3,135.4 L1016.3,134.3 L1017.3,133.1 L1018.3,131.9 L1019.3,130.8 L1020.3,129.6 L1021.3,128.5 L1022.3,127.3 L1023.3,126.2 L1024.3,125.1 L1025.3,123.9 L1026.3,122.8 L1027.3,121.7 L1028.3,120.6 L1029.3,119.5 L1030.3,118.4 L1031.3,117.3 L1032.3,116.3 L1033.3,115.2 L1034.3,114.1 L1035.3,113.1 L1036.3,112.0 L1037.3,111.0 L1038.3,109.9 L1039.3,108.9 L1040.3,107.9 L1041.3,106.9 L1042.3,105.9 L1043.3,104.9 L1044.3,103.9 L1045.3,102.9 L1046.3,101.9 L1047.3,100.9 L1048.3,100.0 L1049.3,99.0 L1050.3,98.0 L1051.3,97.1 L1052.3,96.2 L1053.3,95.2 L1054.3,94.3 L1055.3,93.4 L1056.3,92.5 L1057.3,91.5 L1058.3,90.6 L1059.3,89.8 L1060.3,88.9 L1061.3,88.0 L1062.3,87.1 L1063.3,86.2 L1064.3,85.4 L1065.3,84.5 L1066.3,83.7 L1067.3,82.9 L1068.3,82.0 L1069.3,81.2 L1070.3,80.4 L1071.3,79.6 L1072.3,78.8 L1073.3,78.0 L1074.3,77.2 L1075.3,76.4 L1076.3,75.6 L1077.3,74.8 L1078.3,74.1 L1079.3,73.3 L1080.3,72.6 L1081.3,71.8 L1082.3,71.1 L1083.3,70.4 L1084.3,69.6 L1085.3,68.9 L1086.3,68.2 L1087.3,67.5 L1088.3,66.8 L1089.3,66.1 L1090.3,65.4 L1091.3,64.8 L1092.3,64.1 L1093.3,63.4 L1094.3,62.8 L1095.3,62.1 L1096.3,61.5 L1097.3,60.9 L1098.3,60.2 L1099.3,59.6 L1100.3,59.0 L1101.3,58.4 L1102.3,57.8 L1103.3,57.2 L1104.3,56.6 L1105.3,56.0 L1106.3,55.5 L1107.3,54.9 L1108.3,54.3 L1109.3,53.8 L1110.3,53.2 L1111.3,52.7 L1112.3,52.1 L1113.3,51.6 L1114.3,51.1 L1115.3,50.6 L1116.3,50.1 L1117.3,49.6 L1118.3,49.1 L1119.3,48.6 L1120.3,48.1 L1121.3,47.6 L1122.3,47.2 L1123.3,46.7 L1124.3,46.2 L1125.3,45.8 L1126.3,45.3 L1127.3,44.9 L1128.3,44.5 L1129.3,44.0 L1130.3,43.6 L1131.3,43.2 L1132.3,42.8 L1133.3,42.4 L1134.3,42.0 L1135.3,41.6 L1136.3,41.2 L1137.3,40.8 L1138.3,40.5 L1139.3,40.1 L1140.3,39.7 L1141.3,39.4 L1142.3,39.0 L1143.3,38.7 L1144.3,38.3 L1145.3,38.0 L1146.3,37.7 L1147.3,37.4 L1148.3,37.0 L1149.3,36.7 L1150.3,36.4 L1151.3,36.1 L1152.3,35.8 L1153.3,35.6 L1154.3,35.3 L1155.3,35.0 L1156.3,34.7 L1157.3,34.5 L1158.3,34.2 L1159.3,33.9 L1160.3,33.7 L1161.3,33.4 L1162.3,33.2 L1163.3,33.0 L1164.3,32.7 L1165.3,32.5 L1166.3,32.3 L1167.3,32.1 L1168.3,31.9 L1169.3,31.7 L1170.3,31.5 L1171.3,31.3 L1172.3,31.1 L1173.3,30.9 L1174.3,30.7 L1175.3,30.5 L1176.3,30.4 L1177.3,30.2 L1178.3,30.0 L1179.3,29.9 L1180.3,29.7 L1181.3,29.6 L1182.3,29.4 L1183.3,29.3 L1184.3,29.1 L1185.3,29.0 L1186.3,28.9 L1187.3,28.7 L1188.3,28.6 L1189.3,28.5 L1190.3,28.4 L1191.3,28.3 L1192.3,28.2" fill="none" stroke="#FB2C56" stroke-width="11" stroke-dasharray="40.5 18.26" stroke-dashoffset="-49.9"/>
<line x1="1188" y1="26.2" x2="1520" y2="26.2" stroke="#FB2C56" stroke-width="10.8"/>
<rect x="1232.6" y="20.8" width="6.2" height="10.8" fill="#00AEEF"/>
<rect x="1269.4" y="20.8" width="6.2" height="10.8" fill="#00AEEF"/>
<rect x="1306.2" y="20.8" width="6.2" height="10.8" fill="#00AEEF"/>
<rect x="1361.4" y="20.8" width="6.2" height="10.8" fill="#00AEEF"/>
<rect x="1398.2" y="20.8" width="6.2" height="10.8" fill="#00AEEF"/>
<rect x="1490.2" y="20.8" width="6.2" height="10.8" fill="#00AEEF"/>
<path id="teal" d="M483.6,826.0 L484.6,826.0 L485.6,825.9 L486.6,825.8 L487.6,825.8 L488.6,825.7 L489.6,825.6 L490.6,825.4 L491.6,825.3 L492.6,825.1 L493.6,825.0 L494.6,824.8 L495.6,824.6 L496.6,824.3 L497.6,824.1 L498.6,823.9 L499.6,823.6 L500.6,823.3 L501.6,823.0 L502.6,822.7 L503.6,822.3 L504.6,822.0 L505.6,821.6 L506.6,821.2 L507.6,820.9 L508.6,820.4 L509.6,820.0 L510.6,819.6 L511.6,819.1 L512.6,818.6 L513.6,818.1 L514.6,817.6 L515.6,817.1 L516.6,816.6 L517.6,816.0 L518.6,815.5 L519.6,814.9 L520.6,814.3 L521.6,813.7 L522.6,813.1 L523.6,812.4 L524.6,811.8 L525.6,811.1 L526.6,810.4 L527.6,809.7 L528.6,809.0 L529.6,808.3 L530.6,807.5 L531.6,806.8 L532.6,806.0 L533.6,805.2 L534.6,804.4 L535.6,803.6 L536.6,802.8 L537.6,801.9 L538.6,801.1 L539.6,800.2 L540.6,799.3 L541.6,798.4 L542.6,797.5 L543.6,796.6 L544.6,795.6 L545.6,794.7 L546.6,793.7 L547.6,792.7 L548.6,791.7 L549.6,790.7 L550.6,789.7 L551.6,788.7 L552.6,787.6 L553.6,786.6 L554.6,785.5 L555.6,784.4 L556.6,783.3 L557.6,782.2 L558.6,781.1 L559.6,779.9 L560.6,778.8 L561.6,777.6 L562.6,776.4 L563.6,775.2 L564.6,774.0 L565.6,772.8 L566.6,771.6 L567.6,770.4 L568.6,769.1 L569.6,767.9 L570.6,766.6 L571.6,765.3 L572.6,764.0 L573.6,762.7 L574.6,761.4 L575.6,760.0 L576.6,758.7 L577.6,757.3 L578.6,756.0 L579.6,754.6 L580.6,753.2 L581.6,751.8 L582.6,750.4 L583.6,749.0 L584.6,747.5 L585.6,746.1 L586.6,744.6 L587.6,743.2 L588.6,741.7 L589.6,740.2 L590.6,738.7 L591.6,737.2 L592.6,735.7 L593.6,734.1 L594.6,732.6 L595.6,731.0 L596.6,729.5 L597.6,727.9 L598.6,726.3 L599.6,724.7 L600.6,723.1 L601.6,721.5 L602.6,719.9 L603.6,718.3 L604.6,716.6 L605.6,715.0 L606.6,713.3 L607.6,711.6 L608.6,709.9 L609.6,708.3 L610.6,706.6 L611.6,704.8 L612.6,703.1 L613.6,701.4 L614.6,699.7 L615.6,697.9 L616.6,696.2 L617.6,694.4 L618.6,692.6 L619.6,690.8 L620.6,689.1 L621.6,687.3 L622.6,685.5 L623.6,683.6 L624.6,681.8 L625.6,680.0 L626.6,678.1 L627.6,676.3 L628.6,674.4 L629.6,672.6 L630.6,670.7 L631.6,668.8 L632.6,666.9 L633.6,665.0 L634.6,663.1 L635.6,661.2 L636.6,659.3 L637.6,657.4 L638.6,655.5 L639.6,653.5 L640.6,651.6 L641.6,649.6 L642.6,647.7 L643.6,645.7 L644.6,643.7 L645.6,641.7 L646.6,639.7 L647.6,637.7 L648.6,635.7 L649.6,633.7 L650.6,631.7 L651.6,629.7 L652.6,627.7 L653.6,625.6 L654.6,623.6 L655.6,621.5 L656.6,619.5 L657.6,617.4 L658.6,615.4 L659.6,613.3 L660.6,611.2 L661.6,609.1 L662.6,607.0 L663.6,605.0 L664.6,602.9 L665.6,600.7 L666.6,598.6 L667.6,596.5 L668.6,594.4 L669.6,592.3 L670.6,590.1 L671.6,588.0 L672.6,585.9 L673.6,583.7 L674.6,581.6 L675.6,579.4 L676.6,577.2 L677.6,575.1 L678.6,572.9 L679.6,570.7 L680.6,568.6 L681.6,566.4 L682.6,564.2 L683.6,562.0 L684.6,559.8 L685.6,557.6 L686.6,555.4 L687.6,553.2 L688.6,551.0 L689.6,548.8 L690.6,546.5 L691.6,544.3 L692.6,542.1 L693.6,539.9 L694.6,537.6 L695.6,535.4 L696.6,533.1 L697.6,530.9 L698.6,528.7 L699.6,526.4 L700.6,524.1 L701.6,521.9 L702.6,519.6 L703.6,517.4 L704.6,515.1 L705.6,512.8 L706.6,510.6 L707.6,508.3 L708.6,506.0 L709.6,503.7 L710.6,501.5 L711.6,499.2 L712.6,496.9 L713.6,494.6 L714.6,492.3 L715.6,490.0 L716.6,487.7 L717.6,485.5 L718.6,483.2 L719.6,480.9 L720.6,478.6 L721.6,476.3 L722.6,474.0 L723.6,471.7 L724.6,469.4 L725.6,467.1 L726.6,464.7 L727.6,462.4 L728.6,460.1 L729.6,457.8 L730.6,455.5 L731.6,453.2 L732.6,450.9 L733.6,448.6 L734.6,446.3 L735.6,443.9 L736.6,441.6 L737.6,439.3 L738.6,437.0 L739.6,434.7 L740.6,432.4 L741.6,430.1 L742.6,427.7 L743.6,425.4 L744.6,423.1 L745.6,420.8 L746.6,418.5 L747.6,416.2 L748.6,413.8 L749.6,411.5 L750.6,409.2 L751.6,406.9 L752.6,404.6 L753.6,402.3 L754.6,400.0 L755.6,397.7 L756.6,395.4 L757.6,393.0 L758.6,390.7 L759.6,388.4 L760.6,386.1 L761.6,383.8 L762.6,381.5 L763.6,379.2 L764.6,376.9 L765.6,374.6 L766.6,372.3 L767.6,370.0 L768.6,367.8 L769.6,365.5 L770.6,363.2 L771.6,360.9 L772.6,358.6 L773.6,356.3 L774.6,354.0 L775.6,351.8 L776.6,349.5 L777.6,347.2 L778.6,344.9 L779.6,342.7 L780.6,340.4 L781.6,338.1 L782.6,335.9 L783.6,333.6 L784.6,331.4 L785.6,329.1 L786.6,326.9 L787.6,324.6 L788.6,322.4 L789.6,320.2 L790.6,317.9 L791.6,315.7 L792.6,313.5 L793.6,311.2 L794.6,309.0 L795.6,306.8 L796.6,304.6 L797.6,302.4 L798.6,300.2 L799.6,298.0 L800.6,295.8 L801.6,293.6 L802.6,291.4 L803.6,289.2 L804.6,287.0 L805.6,284.8 L806.6,282.7 L807.6,280.5 L808.6,278.3 L809.6,276.2 L810.6,274.0 L811.6,271.9 L812.6,269.7 L813.6,267.6 L814.6,265.5 L815.6,263.3 L816.6,261.2 L817.6,259.1 L818.6,257.0 L819.6,254.9 L820.6,252.8 L821.6,250.7 L822.6,248.6 L823.6,246.5 L824.6,244.4 L825.6,242.3 L826.6,240.3 L827.6,238.2 L828.6,236.2 L829.6,234.1 L830.6,232.1 L831.6,230.0 L832.6,228.0 L833.6,226.0 L834.6,223.9 L835.6,221.9 L836.6,219.9 L837.6,217.9 L838.6,215.9 L839.6,213.9 L840.6,212.0 L841.6,210.0 L842.6,208.0 L843.6,206.1 L844.6,204.1 L845.6,202.2 L846.6,200.2 L847.6,198.3 L848.6,196.4 L849.6,194.4 L850.6,192.5 L851.6,190.6 L852.6,188.7 L853.6,186.9 L854.6,185.0 L855.6,183.1 L856.6,181.2 L857.6,179.4 L858.6,177.5 L859.6,175.7 L860.6,173.9 L861.6,172.1 L862.6,170.2 L863.6,168.4 L864.6,166.6 L865.6,164.8 L866.6,163.1 L867.6,161.3 L868.6,159.5 L869.6,157.8 L870.6,156.0 L871.6,154.3 L872.6,152.6 L873.6,150.8 L874.6,149.1 L875.6,147.4 L876.6,145.7 L877.6,144.1 L878.6,142.4 L879.6,140.7 L880.6,139.1 L881.6,137.4 L882.6,135.8 L883.6,134.2 L884.6,132.5 L885.6,130.9 L886.6,129.3 L887.6,127.7 L888.6,126.2 L889.6,124.6 L890.6,123.0 L891.6,121.5 L892.6,120.0 L893.6,118.4 L894.6,116.9 L895.6,115.4 L896.6,113.9 L897.6,112.4 L898.6,111.0 L899.6,109.5 L900.6,108.0 L901.6,106.6 L902.6,105.2 L903.6,103.8 L904.6,102.3 L905.6,100.9 L906.6,99.6 L907.6,98.2 L908.6,96.8 L909.6,95.5 L910.6,94.1 L911.6,92.8 L912.6,91.5 L913.6,90.2 L914.6,88.9 L915.6,87.6 L916.6,86.3 L917.6,85.0 L918.6,83.8 L919.6,82.6 L920.6,81.3 L921.6,80.1 L922.6,78.9 L923.6,77.7 L924.6,76.5 L925.6,75.4 L926.6,74.2 L927.6,73.1 L928.6,72.0 L929.6,70.8 L930.6,69.7 L931.6,68.6 L932.6,67.6 L933.6,66.5 L934.6,65.4 L935.6,64.4 L936.6,63.4 L937.6,62.4 L938.6,61.4 L939.6,60.4 L940.6,59.4 L941.6,58.4 L942.6,57.5 L943.6,56.6 L944.6,55.6 L945.6,54.7 L946.6,53.8 L947.6,52.9 L948.6,52.1 L949.6,51.2 L950.6,50.4 L951.6,49.5 L952.6,48.7 L953.6,47.9 L954.6,47.1 L955.6,46.4 L956.6,45.6 L957.6,44.9 L958.6,44.1 L959.6,43.4 L960.6,42.7 L961.6,42.0 L962.6,41.3 L963.6,40.7 L964.6,40.0 L965.6,39.4 L966.6,38.8 L967.6,38.2 L968.6,37.6 L969.6,37.0 L970.6,36.5 L971.6,35.9 L972.6,35.4 L973.6,34.9 L974.6,34.4 L975.6,33.9 L976.6,33.4 L977.6,33.0 L978.6,32.5 L979.6,32.1 L980.6,31.7 L981.6,31.3 L982.6,30.9 L983.6,30.5 L984.6,30.2 L985.6,29.8 L986.6,29.5 L987.6,29.2 L988.6,28.9 L989.6,28.6 L990.6,28.4 L991.6,28.1 L992.6,27.9 L993.6,27.7 L994.6,27.5 L995.6,27.3" fill="none" stroke="#008080" stroke-width="10.9" stroke-dasharray="19.6 10.07" />
<line x1="999.2" y1="26.2" x2="1520" y2="26.2" stroke="#008080" stroke-width="10.8" stroke-dasharray="13 5.4"/>
</g>
<g id="legend">
<rect x="1080.4" y="140.4" width="386.8" height="211.5" fill="#fff" stroke="#222" stroke-width="4"/>
<line x1="1096.5" y1="188.3" x2="1260.6" y2="188.3" stroke="#00AEEF" stroke-width="9.4" stroke-linecap="round"/>
<line x1="1097" y1="251.9" x2="1261.1" y2="251.9" stroke="#008080" stroke-width="10" stroke-dasharray="36 16.9"/>
<line x1="1098.1" y1="311.8" x2="1262" y2="311.8" stroke="#FB2C56" stroke-width="10" stroke-dasharray="18.7 7.6"/>
<g font-family="'Liberation Serif',serif" font-size="48.5" fill="#000">
<text x="1276.2 1299.3 1324.0 1336.6 1359.7 1403.4 1415.3" y="207.1">72 km/h</text>
<text x="1276.3 1300.8 1325.0 1337.5 1360.6 1403.8 1415.6" y="273.7">90 km/h</text>
<text x="1265.8 1290.8 1314.9 1339.0 1350.8 1380.8 1417.0 1428.0" y="332.9">120 km/h</text>
</g></g>
<g id="annot">
<line x1="973.2" y1="489.5" x2="905" y2="386" stroke="#000" stroke-width="3.2"/>
<polygon points="890.1,362.7 928,384.8 895.5,406.9" fill="#000"/>
<text x="970.1 1006.5 1031.0 1049.1 1072.9 1091.3 1114.8 1146.5 1171.0 1195.4 1206.9 1224.7 1243.2 1266.0 1286.5 1310.5 1333.5 1347.1 1376.8 1394.7" y="557" font-family="'Liberation Serif',serif" font-size="55" fill="#444" stroke="#444" stroke-width="0.45">Reference trajectory</text>
</g>
<g id="axistext" font-family="'Liberation Serif',serif" fill="#404040">
<g font-size="61">
<text transform="translate(163,903.2) scale(1,1.035)">0</text>
<text transform="translate(496.5,903.2) scale(1,1.035)">50</text>
<text transform="translate(827.6,903.2) scale(1,1.035)">100</text>
<text transform="translate(1170.5,903.2) scale(1,1.035)">150</text>
<text transform="translate(1510,903.2) scale(1,1.035)">200</text>
<text transform="translate(100.5,203.3) scale(1,1.03)">3</text>
<text transform="translate(100.5,423.7) scale(1,1.03)">2</text>
<text transform="translate(100.5,639.2) scale(1,1.03)">1</text>
<text transform="translate(100.5,852) scale(1,1.03)">0</text>
</g>
<text x="690.2 735.0 749.9 789.1 819.2 844.6 862.0 882.7 898.6 928.1 960.0 976.5 1000.5 1048.8" y="983.8" font-size="61">X Position (m)</text>
<text transform="translate(56,638) rotate(-90)" x="0.0 43.0 58.5 96.4 126.3 152.9 169.7 191.0 206.9 235.8 268.0 283.8 303.3 357.3" y="0" font-size="61">Y Position (m)</text>
</g>
</svg>
</body></html>
